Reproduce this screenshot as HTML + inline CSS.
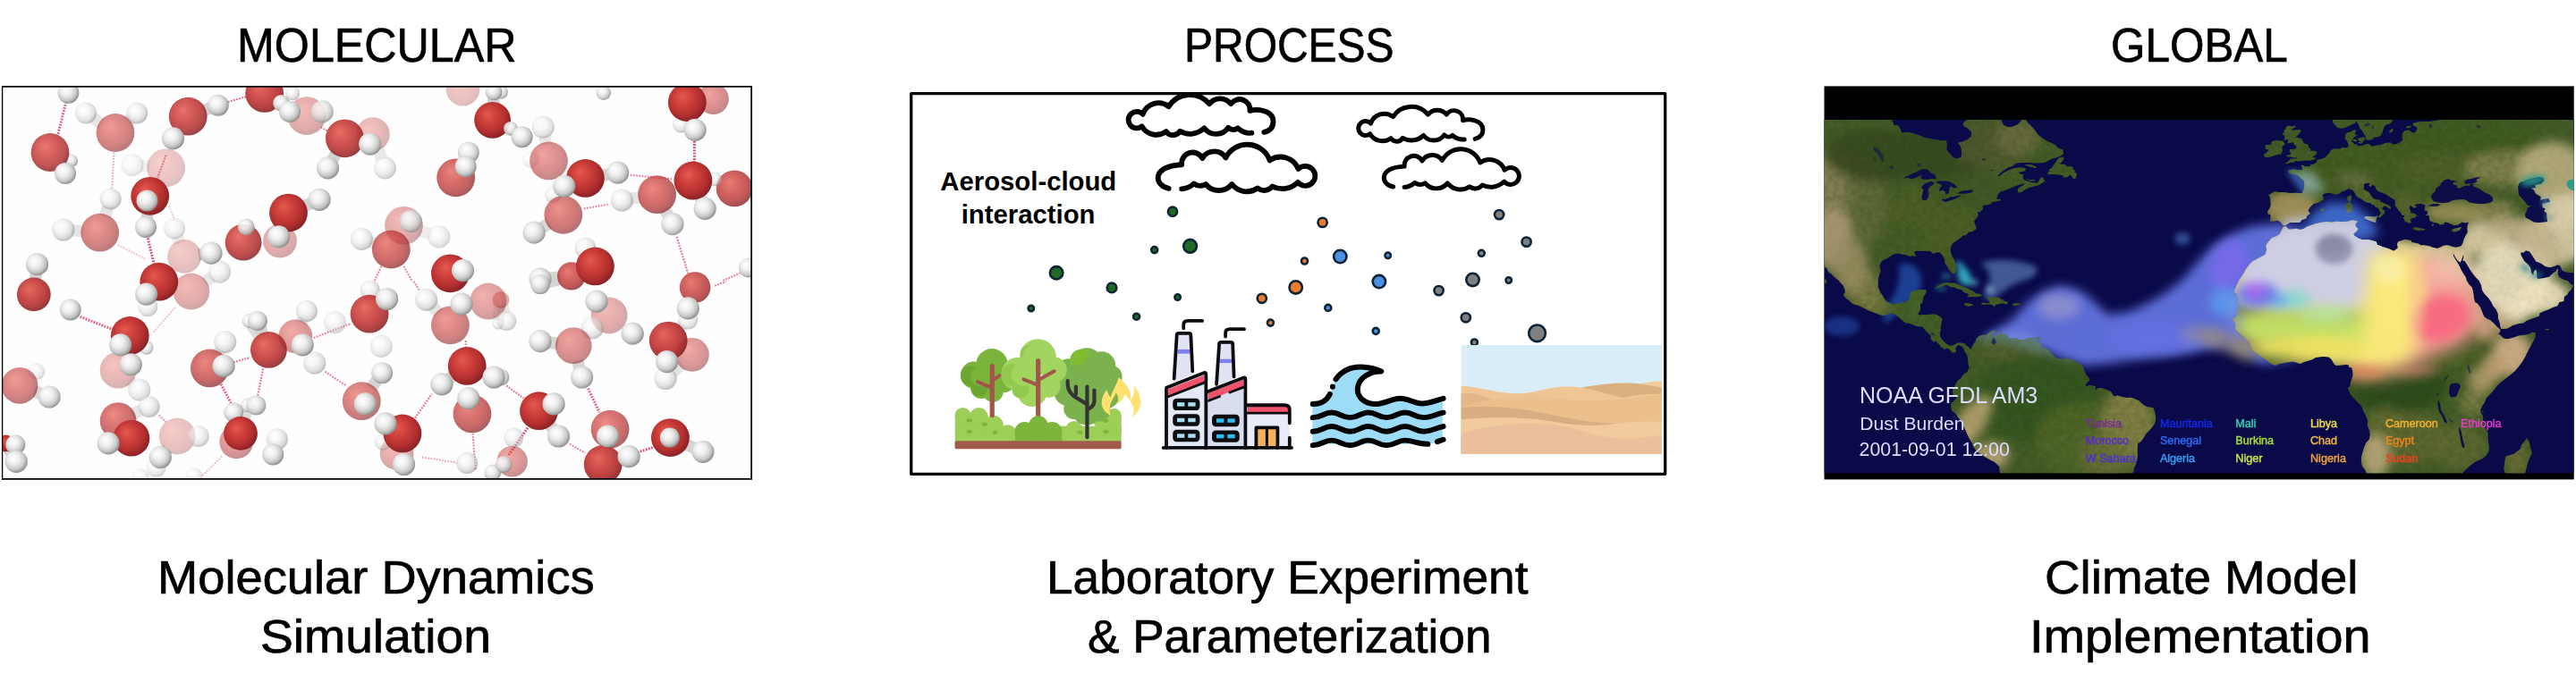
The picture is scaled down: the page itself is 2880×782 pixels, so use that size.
<!DOCTYPE html>
<html lang="en">
<head>
<meta charset="utf-8">
<title>Molecular – Process – Global</title>
<style>
html,body{margin:0;padding:0;background:#fff;}
body{width:2880px;height:782px;position:relative;overflow:hidden;font-family:"Liberation Sans",Arial,sans-serif;color:#000;}
.t{position:absolute;white-space:nowrap;transform-origin:0 0;line-height:1;}
svg{position:absolute;display:block;overflow:hidden;}
svg text{font-family:"Liberation Sans",Arial,sans-serif;}
.t{-webkit-text-stroke:0.7px #000;}

</style>
</head>
<body>
<div class="t hd" style="left:265.0px;top:24.0px;font-size:53px;transform:scaleX(0.9474)">MOLECULAR</div>
<div class="t hd" style="left:1324.4px;top:24.0px;font-size:53px;transform:scaleX(0.9052)">PROCESS</div>
<div class="t hd" style="left:2360.2px;top:24.0px;font-size:53px;transform:scaleX(0.9327)">GLOBAL</div>
<div class="t cap" style="left:175.9px;top:619.8px;font-size:52.4px;transform:scaleX(1.0361)">Molecular Dynamics</div>
<div class="t cap" style="left:291.4px;top:686.0px;font-size:52.4px;transform:scaleX(1.0544)">Simulation</div>
<div class="t cap" style="left:1170.4px;top:619.8px;font-size:52.4px;transform:scaleX(1.0160)">Laboratory Experiment</div>
<div class="t cap" style="left:1215.5px;top:686.0px;font-size:52.4px;transform:scaleX(1.0132)">&amp; Parameterization</div>
<div class="t cap" style="left:2286.4px;top:619.8px;font-size:52.4px;transform:scaleX(1.0467)">Climate Model</div>
<div class="t cap" style="left:2268.7px;top:686.0px;font-size:52.4px;transform:scaleX(1.0650)">Implementation</div>

<!-- Panel 1: molecular dynamics snapshot -->
<svg id="p1" style="left:0;top:90px" width="850" height="455" viewBox="0 90 850 455">
<defs>
<radialGradient id="gO" cx="0.44" cy="0.43" r="0.62" fx="0.36" fy="0.33">
<stop offset="0" stop-color="#e45a4e"/><stop offset="0.4" stop-color="#cc3e3a"/><stop offset="0.72" stop-color="#b22e2e"/><stop offset="1" stop-color="#7c2024"/>
</radialGradient>
<radialGradient id="gH" cx="0.43" cy="0.42" r="0.64" fx="0.36" fy="0.33">
<stop offset="0" stop-color="#ffffff"/><stop offset="0.4" stop-color="#eeeeee"/><stop offset="0.72" stop-color="#c6c8c6"/><stop offset="1" stop-color="#7a7c7a"/>
</radialGradient>
<clipPath id="c1"><rect x="3.4" y="97.6" width="836" height="437.5"/></clipPath>
<filter id="s1" x="-2%" y="-2%" width="104%" height="104%"><feGaussianBlur stdDeviation="0.7"/></filter>
</defs>
<rect x="2.75" y="96.85" width="837.35" height="439" fill="#fefefe"/>
<g clip-path="url(#c1)"><g filter="url(#s1)">
<line x1="73.9" y1="113.9" x2="64.5" y2="151.6" stroke="#dc4a6e" stroke-width="2.9" stroke-dasharray="1.8 1.4" opacity="0.90"/>
<line x1="127.4" y1="170.5" x2="125.2" y2="211.4" stroke="#dc4a6e" stroke-width="2.1" stroke-dasharray="1.8 1.4" opacity="0.45"/>
<line x1="185.6" y1="173.7" x2="176.2" y2="198.8" stroke="#dc4a6e" stroke-width="2.1" stroke-dasharray="1.8 1.4" opacity="0.70"/>
<line x1="165.2" y1="266.5" x2="172.4" y2="296.3" stroke="#dc4a6e" stroke-width="2.9" stroke-dasharray="1.8 1.4" opacity="1.00"/>
<line x1="132.1" y1="274.3" x2="163.6" y2="290.1" stroke="#dc4a6e" stroke-width="2.1" stroke-dasharray="1.8 1.4" opacity="0.35"/>
<line x1="254.8" y1="113.9" x2="276.9" y2="107.6" stroke="#dc4a6e" stroke-width="2.1" stroke-dasharray="1.8 1.4" opacity="0.80"/>
<line x1="188.8" y1="230.3" x2="195.1" y2="246.0" stroke="#dc4a6e" stroke-width="2.1" stroke-dasharray="1.8 1.4" opacity="0.30"/>
<line x1="358.7" y1="142.2" x2="366.5" y2="146.9" stroke="#dc4a6e" stroke-width="2.1" stroke-dasharray="1.8 1.4" opacity="0.70"/>
<line x1="426.3" y1="297.9" x2="418.4" y2="314.9" stroke="#dc4a6e" stroke-width="2.1" stroke-dasharray="1.8 1.4" opacity="0.70"/>
<line x1="451.5" y1="297.9" x2="460.9" y2="314.9" stroke="#dc4a6e" stroke-width="2.1" stroke-dasharray="1.8 1.4" opacity="0.70"/>
<line x1="776.4" y1="157.9" x2="776.4" y2="181.5" stroke="#dc4a6e" stroke-width="2.9" stroke-dasharray="1.8 1.4" opacity="1.00"/>
<line x1="704.7" y1="195.7" x2="751.9" y2="200.4" stroke="#dc4a6e" stroke-width="2.1" stroke-dasharray="1.8 1.4" opacity="0.70"/>
<line x1="652.8" y1="233.4" x2="679.6" y2="228.7" stroke="#dc4a6e" stroke-width="2.1" stroke-dasharray="1.8 1.4" opacity="0.70"/>
<line x1="756.6" y1="264.9" x2="769.2" y2="305.8" stroke="#dc4a6e" stroke-width="2.1" stroke-dasharray="1.8 1.4" opacity="0.80"/>
<line x1="808.5" y1="313.7" x2="827.4" y2="305.8" stroke="#dc4a6e" stroke-width="2.1" stroke-dasharray="1.8 1.4" opacity="0.70"/>
<line x1="89.7" y1="354.3" x2="125.8" y2="368.5" stroke="#dc4a6e" stroke-width="2.9" stroke-dasharray="1.8 1.4" opacity="0.90"/>
<line x1="171.5" y1="371.6" x2="196.6" y2="343.3" stroke="#dc4a6e" stroke-width="2.1" stroke-dasharray="1.8 1.4" opacity="0.35"/>
<line x1="247.0" y1="429.8" x2="259.6" y2="453.4" stroke="#dc4a6e" stroke-width="2.9" stroke-dasharray="1.8 1.4" opacity="0.90"/>
<line x1="258.0" y1="406.2" x2="280.0" y2="399.9" stroke="#dc4a6e" stroke-width="2.1" stroke-dasharray="1.8 1.4" opacity="0.80"/>
<line x1="177.8" y1="464.4" x2="185.6" y2="472.3" stroke="#dc4a6e" stroke-width="2.1" stroke-dasharray="1.8 1.4" opacity="0.60"/>
<line x1="226.5" y1="532.1" x2="248.5" y2="510.1" stroke="#dc4a6e" stroke-width="2.1" stroke-dasharray="1.8 1.4" opacity="0.35"/>
<line x1="294.2" y1="412.5" x2="287.9" y2="444.0" stroke="#dc4a6e" stroke-width="2.1" stroke-dasharray="1.8 1.4" opacity="0.80"/>
<line x1="350.8" y1="377.9" x2="391.7" y2="362.2" stroke="#dc4a6e" stroke-width="2.1" stroke-dasharray="1.8 1.4" opacity="0.70"/>
<line x1="363.4" y1="415.7" x2="387.0" y2="431.4" stroke="#dc4a6e" stroke-width="2.1" stroke-dasharray="1.8 1.4" opacity="0.70"/>
<line x1="464.0" y1="467.6" x2="482.9" y2="440.8" stroke="#dc4a6e" stroke-width="2.1" stroke-dasharray="1.8 1.4" opacity="0.80"/>
<line x1="520.7" y1="381.1" x2="520.7" y2="388.9" stroke="#dc4a6e" stroke-width="2.1" stroke-dasharray="1.8 1.4" opacity="0.70"/>
<line x1="528.5" y1="484.9" x2="531.7" y2="525.8" stroke="#dc4a6e" stroke-width="2.1" stroke-dasharray="1.8 1.4" opacity="0.70"/>
<line x1="471.9" y1="511.6" x2="512.8" y2="517.9" stroke="#dc4a6e" stroke-width="2.1" stroke-dasharray="1.8 1.4" opacity="0.50"/>
<line x1="462.5" y1="315.0" x2="468.8" y2="324.4" stroke="#dc4a6e" stroke-width="2.1" stroke-dasharray="1.8 1.4" opacity="0.70"/>
<line x1="566.3" y1="431.4" x2="585.2" y2="445.6" stroke="#dc4a6e" stroke-width="2.1" stroke-dasharray="1.8 1.4" opacity="0.80"/>
<line x1="657.5" y1="434.6" x2="670.1" y2="461.3" stroke="#dc4a6e" stroke-width="2.9" stroke-dasharray="1.8 1.4" opacity="0.90"/>
<line x1="589.9" y1="478.6" x2="567.9" y2="510.1" stroke="#dc4a6e" stroke-width="2.9" stroke-dasharray="1.8 1.4" opacity="1.00"/>
<line x1="637.1" y1="496.8" x2="654.4" y2="506.9" stroke="#dc4a6e" stroke-width="2.1" stroke-dasharray="1.8 1.4" opacity="0.70"/>
<line x1="712.6" y1="506.0" x2="729.9" y2="500.6" stroke="#dc4a6e" stroke-width="2.9" stroke-dasharray="1.8 1.4" opacity="1.00"/>
<line x1="799.1" y1="319.7" x2="811.7" y2="315.0" stroke="#dc4a6e" stroke-width="2.1" stroke-dasharray="1.8 1.4" opacity="0.70"/>
<line x1="758.2" y1="362.2" x2="767.6" y2="374.8" stroke="#dc4a6e" stroke-width="2.1" stroke-dasharray="1.8 1.4" opacity="0.50"/>
<line x1="157.4" y1="185.5" x2="167.3" y2="186.3" stroke="#d2d4d2" stroke-width="13.5" opacity="0.30"/>
<line x1="226.4" y1="284.3" x2="221.8" y2="284.9" stroke="#d2d4d2" stroke-width="13.5" opacity="0.95"/>
<line x1="198.0" y1="263.9" x2="200.8" y2="271.9" stroke="#d2d4d2" stroke-width="13.5" opacity="0.40"/>
<line x1="148.7" y1="429.6" x2="144.9" y2="426.0" stroke="#d2d4d2" stroke-width="13.5" opacity="0.50"/>
<line x1="185.3" y1="504.1" x2="187.3" y2="501.7" stroke="#d2d4d2" stroke-width="13.5" opacity="1.00"/>
<line x1="564.2" y1="351.3" x2="561.7" y2="341.7" stroke="#d2d4d2" stroke-width="13.5" opacity="0.50"/>
<line x1="557.2" y1="358.9" x2="559.2" y2="341.8" stroke="#d2d4d2" stroke-width="13.5" opacity="0.50"/>
<line x1="556.2" y1="525.7" x2="560.2" y2="523.4" stroke="#d2d4d2" stroke-width="13.5" opacity="0.90"/>
<circle cx="185.6" cy="187.8" r="21.4" fill="url(#gO)" opacity="0.28"/>
<circle cx="147.9" cy="184.7" r="12.6" fill="url(#gH)" opacity="0.30"/>
<circle cx="206.1" cy="286.9" r="18.9" fill="url(#gO)" opacity="0.30"/>
<circle cx="517.5" cy="99.7" r="18.9" fill="url(#gO)" opacity="0.30"/>
<circle cx="593.0" cy="178.4" r="9.4" fill="url(#gH)" opacity="0.30"/>
<circle cx="132.1" cy="414.1" r="20.4" fill="url(#gO)" opacity="0.35"/>
<circle cx="198.2" cy="488.0" r="20.4" fill="url(#gO)" opacity="0.30"/>
<circle cx="560.0" cy="335.4" r="9.4" fill="url(#gO)" opacity="0.40"/>
<circle cx="572.6" cy="516.3" r="17.3" fill="url(#gO)" opacity="0.50"/>
<line x1="103.4" y1="131.4" x2="113.7" y2="138.3" stroke="#d2d4d2" stroke-width="13.5" opacity="0.55"/>
<line x1="80.3" y1="257.8" x2="93.3" y2="258.8" stroke="#d2d4d2" stroke-width="13.5" opacity="0.60"/>
<line x1="427.1" y1="178.8" x2="422.2" y2="165.0" stroke="#d2d4d2" stroke-width="13.5" opacity="0.50"/>
<line x1="481.7" y1="262.0" x2="469.0" y2="257.9" stroke="#d2d4d2" stroke-width="13.5" opacity="0.40"/>
<line x1="413.3" y1="270.6" x2="420.0" y2="272.9" stroke="#d2d4d2" stroke-width="13.5" opacity="0.55"/>
<line x1="608.8" y1="151.6" x2="610.5" y2="161.8" stroke="#d2d4d2" stroke-width="13.5" opacity="0.50"/>
<line x1="237.5" y1="309.7" x2="228.3" y2="316.1" stroke="#d2d4d2" stroke-width="13.5" opacity="0.50"/>
<line x1="339.3" y1="356.2" x2="336.8" y2="361.8" stroke="#d2d4d2" stroke-width="13.5" opacity="0.60"/>
<line x1="751.2" y1="417.1" x2="762.1" y2="407.4" stroke="#d2d4d2" stroke-width="13.5" opacity="0.60"/>
<line x1="763.7" y1="363.3" x2="759.7" y2="367.6" stroke="#d2d4d2" stroke-width="13.5" opacity="0.50"/>
<circle cx="96.0" cy="126.5" r="12.0" fill="url(#gH)" opacity="0.55"/>
<circle cx="70.8" cy="257.0" r="12.6" fill="url(#gH)" opacity="0.60"/>
<circle cx="195.1" cy="255.4" r="12.0" fill="url(#gH)" opacity="0.40"/>
<circle cx="342.9" cy="129.6" r="21.4" fill="url(#gO)" opacity="0.40"/>
<circle cx="416.9" cy="150.1" r="18.9" fill="url(#gO)" opacity="0.35"/>
<circle cx="313.0" cy="269.6" r="18.9" fill="url(#gO)" opacity="0.40"/>
<circle cx="451.5" cy="252.3" r="21.4" fill="url(#gO)" opacity="0.40"/>
<circle cx="404.3" cy="267.4" r="12.6" fill="url(#gH)" opacity="0.55"/>
<circle cx="490.8" cy="264.9" r="12.6" fill="url(#gH)" opacity="0.40"/>
<circle cx="613.5" cy="179.9" r="21.4" fill="url(#gO)" opacity="0.55"/>
<circle cx="797.5" cy="110.7" r="17.3" fill="url(#gO)" opacity="0.55"/>
<circle cx="213.9" cy="326.0" r="20.4" fill="url(#gO)" opacity="0.40"/>
<circle cx="155.7" cy="436.1" r="12.6" fill="url(#gH)" opacity="0.50"/>
<circle cx="40.9" cy="415.7" r="9.4" fill="url(#gH)" opacity="0.40"/>
<circle cx="221.8" cy="488.0" r="12.0" fill="url(#gH)" opacity="0.50"/>
<circle cx="264.3" cy="494.3" r="18.9" fill="url(#gO)" opacity="0.50"/>
<circle cx="174.6" cy="522.6" r="11.0" fill="url(#gH)" opacity="0.40"/>
<circle cx="157.3" cy="533.7" r="9.4" fill="url(#gH)" opacity="0.40"/>
<circle cx="217.1" cy="532.7" r="9.4" fill="url(#gH)" opacity="0.40"/>
<circle cx="330.3" cy="376.3" r="18.9" fill="url(#gO)" opacity="0.50"/>
<circle cx="374.4" cy="360.6" r="12.6" fill="url(#gH)" opacity="0.40"/>
<circle cx="426.3" cy="387.4" r="12.6" fill="url(#gH)" opacity="0.40"/>
<circle cx="545.8" cy="337.0" r="20.4" fill="url(#gO)" opacity="0.45"/>
<circle cx="556.9" cy="362.2" r="6.3" fill="url(#gH)" opacity="0.50"/>
<circle cx="443.6" cy="506.9" r="18.9" fill="url(#gO)" opacity="0.40"/>
<circle cx="681.1" cy="352.8" r="20.4" fill="url(#gO)" opacity="0.40"/>
<circle cx="773.9" cy="396.8" r="18.9" fill="url(#gO)" opacity="0.50"/>
<circle cx="769.2" cy="357.5" r="11.0" fill="url(#gH)" opacity="0.50"/>
<circle cx="566.3" cy="359.0" r="11.0" fill="url(#gH)" opacity="0.50"/>
<circle cx="574.2" cy="489.6" r="11.0" fill="url(#gH)" opacity="0.50"/>
<line x1="76.6" y1="178.5" x2="73.1" y2="177.2" stroke="#d2d4d2" stroke-width="13.5" opacity="0.90"/>
<line x1="146.6" y1="132.5" x2="142.6" y2="136.1" stroke="#d2d4d2" stroke-width="13.5" opacity="0.60"/>
<line x1="120.9" y1="231.0" x2="117.2" y2="242.6" stroke="#d2d4d2" stroke-width="13.5" opacity="0.60"/>
<line x1="168.4" y1="336.0" x2="170.2" y2="332.0" stroke="#d2d4d2" stroke-width="13.5" opacity="0.50"/>
<line x1="519.8" y1="178.5" x2="517.9" y2="182.4" stroke="#d2d4d2" stroke-width="13.5" opacity="0.90"/>
<line x1="605.3" y1="255.2" x2="614.1" y2="249.9" stroke="#d2d4d2" stroke-width="13.5" opacity="0.90"/>
<line x1="704.7" y1="222.5" x2="716.4" y2="220.6" stroke="#d2d4d2" stroke-width="13.5" opacity="0.60"/>
<line x1="613.6" y1="311.2" x2="626.0" y2="310.1" stroke="#d2d4d2" stroke-width="13.5" opacity="0.90"/>
<line x1="611.8" y1="316.1" x2="626.3" y2="312.2" stroke="#d2d4d2" stroke-width="13.5" opacity="0.90"/>
<line x1="246.8" y1="390.9" x2="243.7" y2="396.1" stroke="#d2d4d2" stroke-width="13.5" opacity="0.60"/>
<line x1="46.1" y1="440.6" x2="38.3" y2="437.6" stroke="#d2d4d2" stroke-width="13.5" opacity="0.90"/>
<line x1="158.6" y1="458.7" x2="148.0" y2="463.5" stroke="#d2d4d2" stroke-width="13.5" opacity="0.60"/>
<line x1="13.4" y1="508.1" x2="9.5" y2="501.5" stroke="#d2d4d2" stroke-width="13.5" opacity="1.00"/>
<line x1="281.2" y1="363.1" x2="290.6" y2="377.0" stroke="#d2d4d2" stroke-width="13.5" opacity="0.80"/>
<line x1="483.2" y1="342.4" x2="490.7" y2="350.4" stroke="#d2d4d2" stroke-width="13.5" opacity="0.60"/>
<line x1="422.0" y1="424.5" x2="415.1" y2="433.9" stroke="#d2d4d2" stroke-width="13.5" opacity="0.95"/>
<line x1="275.7" y1="458.1" x2="272.8" y2="469.5" stroke="#d2d4d2" stroke-width="13.5" opacity="0.80"/>
<line x1="648.1" y1="412.7" x2="645.7" y2="403.6" stroke="#d2d4d2" stroke-width="13.5" opacity="0.95"/>
<line x1="613.5" y1="383.0" x2="623.9" y2="384.4" stroke="#d2d4d2" stroke-width="13.5" opacity="0.95"/>
<circle cx="80.2" cy="179.9" r="6.9" fill="url(#gH)" opacity="0.90"/>
<circle cx="129.0" cy="148.5" r="21.4" fill="url(#gO)" opacity="0.60"/>
<circle cx="111.7" cy="260.2" r="21.4" fill="url(#gO)" opacity="0.60"/>
<circle cx="245.4" cy="304.2" r="12.6" fill="url(#gH)" opacity="0.50"/>
<circle cx="327.2" cy="104.4" r="7.9" fill="url(#gH)" opacity="0.60"/>
<circle cx="430.4" cy="187.8" r="12.6" fill="url(#gH)" opacity="0.50"/>
<circle cx="509.7" cy="198.8" r="21.4" fill="url(#gO)" opacity="0.75"/>
<circle cx="437.3" cy="279.0" r="21.4" fill="url(#gO)" opacity="0.72"/>
<circle cx="560.0" cy="102.9" r="7.9" fill="url(#gH)" opacity="0.80"/>
<circle cx="607.2" cy="142.2" r="12.6" fill="url(#gH)" opacity="0.50"/>
<circle cx="761.3" cy="139.0" r="9.4" fill="url(#gH)" opacity="0.60"/>
<circle cx="618.2" cy="217.7" r="9.4" fill="url(#gH)" opacity="0.50"/>
<circle cx="629.8" cy="240.3" r="21.4" fill="url(#gO)" opacity="0.65"/>
<circle cx="695.3" cy="224.0" r="12.6" fill="url(#gH)" opacity="0.60"/>
<circle cx="821.1" cy="210.8" r="20.4" fill="url(#gO)" opacity="0.80"/>
<circle cx="799.1" cy="200.4" r="7.9" fill="url(#gH)" opacity="0.60"/>
<circle cx="638.7" cy="308.9" r="15.7" fill="url(#gO)" opacity="0.80"/>
<circle cx="654.4" cy="277.5" r="12.0" fill="url(#gH)" opacity="0.60"/>
<circle cx="777.1" cy="321.5" r="17.3" fill="url(#gO)" opacity="0.80"/>
<circle cx="165.2" cy="343.3" r="11.0" fill="url(#gH)" opacity="0.50"/>
<circle cx="163.6" cy="388.9" r="7.9" fill="url(#gH)" opacity="0.70"/>
<circle cx="166.7" cy="455.0" r="12.0" fill="url(#gH)" opacity="0.60"/>
<circle cx="234.4" cy="411.9" r="21.4" fill="url(#gO)" opacity="0.72"/>
<circle cx="251.7" cy="382.6" r="12.6" fill="url(#gH)" opacity="0.60"/>
<circle cx="278.4" cy="359.0" r="7.9" fill="url(#gH)" opacity="0.80"/>
<circle cx="22.0" cy="431.4" r="20.4" fill="url(#gO)" opacity="0.60"/>
<circle cx="132.1" cy="470.7" r="20.4" fill="url(#gO)" opacity="0.70"/>
<circle cx="276.9" cy="453.4" r="7.9" fill="url(#gH)" opacity="0.80"/>
<circle cx="6.3" cy="495.9" r="9.4" fill="url(#gO)"/>
<circle cx="342.9" cy="348.0" r="12.0" fill="url(#gH)" opacity="0.60"/>
<circle cx="351.7" cy="406.2" r="12.6" fill="url(#gH)" opacity="0.60"/>
<circle cx="413.7" cy="324.4" r="11.0" fill="url(#gH)" opacity="0.60"/>
<circle cx="476.6" cy="335.4" r="12.6" fill="url(#gH)" opacity="0.60"/>
<circle cx="503.4" cy="363.8" r="21.4" fill="url(#gO)" opacity="0.60"/>
<circle cx="527.9" cy="462.9" r="21.4" fill="url(#gO)" opacity="0.72"/>
<circle cx="404.3" cy="448.7" r="21.4" fill="url(#gO)" opacity="0.62"/>
<circle cx="427.9" cy="494.3" r="9.4" fill="url(#gH)" opacity="0.50"/>
<circle cx="309.9" cy="491.2" r="12.0" fill="url(#gH)" opacity="0.60"/>
<circle cx="522.2" cy="517.9" r="12.0" fill="url(#gH)" opacity="0.60"/>
<circle cx="662.2" cy="366.9" r="12.6" fill="url(#gH)" opacity="0.55"/>
<circle cx="641.2" cy="386.7" r="20.4" fill="url(#gO)" opacity="0.55"/>
<circle cx="744.0" cy="423.5" r="12.6" fill="url(#gH)" opacity="0.60"/>
<circle cx="682.1" cy="480.2" r="21.4" fill="url(#gO)" opacity="0.70"/>
<line x1="235.4" y1="120.8" x2="227.4" y2="123.8" stroke="#d2d4d2" stroke-width="13.5" opacity="1.00"/>
<line x1="40.5" y1="305.2" x2="39.5" y2="313.6" stroke="#d2d4d2" stroke-width="13.5" opacity="1.00"/>
<line x1="371.3" y1="179.5" x2="376.3" y2="170.7" stroke="#d2d4d2" stroke-width="13.5" opacity="1.00"/>
<line x1="551.8" y1="109.3" x2="551.4" y2="116.9" stroke="#d2d4d2" stroke-width="13.5" opacity="1.00"/>
<line x1="348.3" y1="227.1" x2="339.4" y2="230.9" stroke="#d2d4d2" stroke-width="13.5" opacity="1.00"/>
<line x1="681.1" y1="194.8" x2="672.5" y2="196.3" stroke="#d2d4d2" stroke-width="13.5" opacity="1.00"/>
<line x1="747.5" y1="242.2" x2="743.1" y2="234.0" stroke="#d2d4d2" stroke-width="13.5" opacity="0.90"/>
<line x1="290.8" y1="366.5" x2="294.1" y2="375.2" stroke="#d2d4d2" stroke-width="13.5" opacity="1.00"/>
<line x1="618.6" y1="480.5" x2="613.8" y2="474.2" stroke="#d2d4d2" stroke-width="13.5" opacity="1.00"/>
<circle cx="56.0" cy="170.5" r="21.4" fill="url(#gO)" opacity="0.82"/>
<circle cx="153.2" cy="126.5" r="12.0" fill="url(#gH)" opacity="0.60"/>
<circle cx="210.2" cy="130.2" r="21.4" fill="url(#gO)" opacity="0.85"/>
<circle cx="123.6" cy="222.4" r="12.0" fill="url(#gH)" opacity="0.60"/>
<circle cx="272.1" cy="271.2" r="20.4" fill="url(#gO)" opacity="0.85"/>
<circle cx="37.8" cy="329.4" r="18.9" fill="url(#gO)" opacity="0.90"/>
<circle cx="295.7" cy="104.4" r="21.4" fill="url(#gO)" opacity="0.90"/>
<circle cx="360.2" cy="124.9" r="12.6" fill="url(#gH)" opacity="0.80"/>
<circle cx="385.4" cy="154.8" r="21.4" fill="url(#gO)" opacity="0.88"/>
<circle cx="550.6" cy="134.3" r="20.4" fill="url(#gO)"/>
<circle cx="523.8" cy="170.5" r="12.0" fill="url(#gH)" opacity="0.90"/>
<circle cx="322.5" cy="238.1" r="21.4" fill="url(#gO)"/>
<circle cx="459.3" cy="247.6" r="12.6" fill="url(#gH)" opacity="0.90"/>
<circle cx="571.0" cy="143.8" r="7.9" fill="url(#gH)" opacity="0.90"/>
<circle cx="674.8" cy="103.8" r="8.2" fill="url(#gH)" opacity="0.90"/>
<circle cx="654.4" cy="199.4" r="21.4" fill="url(#gO)"/>
<circle cx="597.1" cy="260.2" r="12.6" fill="url(#gH)" opacity="0.90"/>
<circle cx="734.6" cy="217.7" r="21.4" fill="url(#gO)" opacity="0.72"/>
<circle cx="604.0" cy="312.1" r="12.6" fill="url(#gH)" opacity="0.90"/>
<circle cx="836.9" cy="299.5" r="11.0" fill="url(#gH)" opacity="0.90"/>
<circle cx="145.3" cy="375.4" r="21.4" fill="url(#gO)"/>
<circle cx="55.1" cy="444.0" r="12.6" fill="url(#gH)" opacity="0.90"/>
<circle cx="261.1" cy="461.3" r="11.0" fill="url(#gH)" opacity="0.90"/>
<circle cx="17.3" cy="497.5" r="11.0" fill="url(#gH)"/>
<circle cx="300.4" cy="391.4" r="20.4" fill="url(#gO)" opacity="0.88"/>
<circle cx="413.1" cy="351.2" r="21.4" fill="url(#gO)" opacity="0.88"/>
<circle cx="427.2" cy="417.2" r="12.0" fill="url(#gH)" opacity="0.95"/>
<circle cx="269.0" cy="484.9" r="18.9" fill="url(#gO)"/>
<circle cx="286.3" cy="453.4" r="11.0" fill="url(#gH)" opacity="0.90"/>
<circle cx="550.6" cy="528.9" r="9.4" fill="url(#gH)" opacity="0.90"/>
<circle cx="604.0" cy="318.1" r="11.0" fill="url(#gH)" opacity="0.90"/>
<circle cx="604.0" cy="381.7" r="12.6" fill="url(#gH)" opacity="0.95"/>
<circle cx="650.6" cy="422.0" r="12.6" fill="url(#gH)" opacity="0.95"/>
<circle cx="747.2" cy="381.1" r="21.4" fill="url(#gO)" opacity="0.92"/>
<circle cx="560.0" cy="422.0" r="9.4" fill="url(#gH)" opacity="0.90"/>
<circle cx="602.5" cy="459.7" r="21.4" fill="url(#gO)"/>
<circle cx="674.2" cy="519.5" r="21.4" fill="url(#gO)" opacity="0.92"/>
<circle cx="563.1" cy="519.5" r="9.4" fill="url(#gH)" opacity="0.90"/>
<line x1="164.2" y1="245.0" x2="165.2" y2="237.5" stroke="#d2d4d2" stroke-width="13.5" opacity="1.00"/>
<line x1="774.4" y1="136.1" x2="773.3" y2="132.2" stroke="#d2d4d2" stroke-width="13.5" opacity="1.00"/>
<line x1="784.4" y1="224.6" x2="782.0" y2="218.9" stroke="#d2d4d2" stroke-width="13.5" opacity="1.00"/>
<line x1="543.3" y1="418.2" x2="539.2" y2="416.5" stroke="#d2d4d2" stroke-width="13.5" opacity="1.00"/>
<line x1="501.7" y1="424.2" x2="507.3" y2="420.2" stroke="#d2d4d2" stroke-width="13.5" opacity="1.00"/>
<line x1="777.1" y1="501.5" x2="766.3" y2="496.9" stroke="#d2d4d2" stroke-width="13.5" opacity="1.00"/>
<circle cx="76.4" cy="103.8" r="12.0" fill="url(#gH)"/>
<circle cx="73.0" cy="194.1" r="12.0" fill="url(#gH)"/>
<circle cx="243.8" cy="117.7" r="12.0" fill="url(#gH)"/>
<circle cx="193.5" cy="154.8" r="12.6" fill="url(#gH)"/>
<circle cx="167.7" cy="219.3" r="21.4" fill="url(#gO)"/>
<circle cx="41.5" cy="295.7" r="12.6" fill="url(#gH)"/>
<circle cx="236.0" cy="283.1" r="12.6" fill="url(#gH)" opacity="0.95"/>
<circle cx="275.3" cy="253.9" r="9.4" fill="url(#gH)" opacity="0.90"/>
<circle cx="177.8" cy="315.2" r="21.4" fill="url(#gO)"/>
<circle cx="314.6" cy="115.4" r="9.4" fill="url(#gH)"/>
<circle cx="413.7" cy="161.1" r="12.6" fill="url(#gH)"/>
<circle cx="366.5" cy="187.8" r="12.6" fill="url(#gH)"/>
<circle cx="552.1" cy="102.9" r="9.4" fill="url(#gH)"/>
<circle cx="520.7" cy="186.2" r="12.0" fill="url(#gH)"/>
<circle cx="357.1" cy="223.4" r="12.6" fill="url(#gH)"/>
<circle cx="311.5" cy="264.9" r="12.6" fill="url(#gH)"/>
<circle cx="503.4" cy="305.8" r="21.4" fill="url(#gO)"/>
<circle cx="583.6" cy="153.2" r="12.0" fill="url(#gH)"/>
<circle cx="768.3" cy="114.5" r="21.4" fill="url(#gO)"/>
<circle cx="690.6" cy="193.2" r="12.6" fill="url(#gH)"/>
<circle cx="751.9" cy="250.7" r="12.6" fill="url(#gH)" opacity="0.90"/>
<circle cx="774.9" cy="202.0" r="21.4" fill="url(#gO)"/>
<circle cx="665.4" cy="297.9" r="21.4" fill="url(#gO)"/>
<circle cx="78.7" cy="346.5" r="12.0" fill="url(#gH)"/>
<circle cx="163.6" cy="329.2" r="12.6" fill="url(#gH)"/>
<circle cx="146.3" cy="407.8" r="12.6" fill="url(#gH)"/>
<circle cx="250.1" cy="409.4" r="12.6" fill="url(#gH)"/>
<circle cx="146.9" cy="490.2" r="20.4" fill="url(#gO)"/>
<circle cx="18.2" cy="516.3" r="12.6" fill="url(#gH)"/>
<circle cx="287.9" cy="359.0" r="11.0" fill="url(#gH)"/>
<circle cx="338.2" cy="385.8" r="12.6" fill="url(#gH)"/>
<circle cx="432.6" cy="334.5" r="12.6" fill="url(#gH)"/>
<circle cx="516.0" cy="340.2" r="12.6" fill="url(#gH)"/>
<circle cx="522.2" cy="409.4" r="21.4" fill="url(#gO)"/>
<circle cx="408.4" cy="451.9" r="12.6" fill="url(#gH)"/>
<circle cx="449.9" cy="484.9" r="21.4" fill="url(#gO)"/>
<circle cx="305.2" cy="508.5" r="12.0" fill="url(#gH)"/>
<circle cx="707.2" cy="373.2" r="12.6" fill="url(#gH)"/>
<circle cx="769.2" cy="344.9" r="12.6" fill="url(#gH)"/>
<circle cx="624.5" cy="488.0" r="12.6" fill="url(#gH)"/>
<circle cx="679.6" cy="488.0" r="12.6" fill="url(#gH)"/>
<circle cx="749.4" cy="489.6" r="21.4" fill="url(#gO)"/>
<circle cx="164.5" cy="224.6" r="12.0" fill="url(#gH)"/>
<circle cx="163.0" cy="253.9" r="12.0" fill="url(#gH)"/>
<circle cx="324.0" cy="124.9" r="12.0" fill="url(#gH)"/>
<circle cx="517.5" cy="302.6" r="12.6" fill="url(#gH)"/>
<circle cx="777.1" cy="145.3" r="12.6" fill="url(#gH)"/>
<circle cx="630.8" cy="208.3" r="12.6" fill="url(#gH)"/>
<circle cx="788.1" cy="233.4" r="12.6" fill="url(#gH)"/>
<circle cx="134.7" cy="385.8" r="12.6" fill="url(#gH)"/>
<circle cx="121.1" cy="495.9" r="12.6" fill="url(#gH)"/>
<circle cx="179.3" cy="511.6" r="12.6" fill="url(#gH)"/>
<circle cx="493.9" cy="429.8" r="12.6" fill="url(#gH)"/>
<circle cx="552.1" cy="422.0" r="12.6" fill="url(#gH)"/>
<circle cx="523.8" cy="445.6" r="12.6" fill="url(#gH)"/>
<circle cx="431.0" cy="473.9" r="12.6" fill="url(#gH)"/>
<circle cx="451.5" cy="519.5" r="12.6" fill="url(#gH)"/>
<circle cx="667.0" cy="337.0" r="12.6" fill="url(#gH)"/>
<circle cx="745.6" cy="404.7" r="12.6" fill="url(#gH)"/>
<circle cx="619.1" cy="451.9" r="12.6" fill="url(#gH)"/>
<circle cx="703.1" cy="510.7" r="12.6" fill="url(#gH)"/>
<circle cx="748.8" cy="489.6" r="11.0" fill="url(#gH)"/>
<circle cx="785.9" cy="505.3" r="12.6" fill="url(#gH)"/>
</g></g>
<path d="M1.9 96.85H841M840.1 96V536.7M841 535.85H1.9" fill="none" stroke="#000" stroke-width="1.8"/><path d="M2.6 96V536.7" fill="none" stroke="#000" stroke-width="1.35"/>
</svg>
<!-- Panel 2: aerosol-cloud interaction -->
<svg id="p2" style="left:1010px;top:95px" width="860" height="445" viewBox="1010 95 860 445">
<rect x="1018.7" y="104.7" width="843" height="425.6" fill="#fff" stroke="#000" stroke-width="3.3" stroke-linejoin="round"/>
<g fill="#fff" stroke="#000" stroke-linecap="round" stroke-linejoin="round"><path d="M825 278A104.3 104.3 0 0 1 745 250A40.0 40.0 0 0 1 690 247A86.1 86.1 0 0 1 550 250A115.8 115.8 0 0 1 410 268A47.4 47.4 0 0 1 330 270A96.1 96.1 0 0 1 190 240A48 48 0 1 1 195 170A96.6 96.6 0 0 1 345 125A145.5 145.5 0 0 1 580 110A80.1 80.1 0 0 1 705 110A60.2 60.2 0 0 1 815 150C850 138 948 142 950 212 C950 245 930 266 897 274" transform="translate(1240.00 95.00) scale(0.19316)" stroke-width="30" /><path d="M345 600 C262 585 240 470 420 462A63.9 63.9 0 0 1 540 425A79.0 79.0 0 0 1 675 422A139.1 139.1 0 0 1 930 437A109.5 109.5 0 0 1 1095 487A57 57 0 1 1 1092 564A127.5 127.5 0 0 1 945 588A59.9 59.9 0 0 1 860 598A111.0 111.0 0 0 1 710 575A96.1 96.1 0 0 1 560 575A66.4 66.4 0 0 1 490 572A107.1 107.1 0 0 1 420 602" transform="translate(1240.00 95.00) scale(0.19316)" stroke-width="30" /><path d="M825 278A104.3 104.3 0 0 1 745 250A40.0 40.0 0 0 1 690 247A86.1 86.1 0 0 1 550 250A115.8 115.8 0 0 1 410 268A47.4 47.4 0 0 1 330 270A96.1 96.1 0 0 1 190 240A48 48 0 1 1 195 170A96.6 96.6 0 0 1 345 125A145.5 145.5 0 0 1 580 110A80.1 80.1 0 0 1 705 110A60.2 60.2 0 0 1 815 150C850 138 948 142 950 212 C950 245 930 266 897 274" transform="translate(1500.14 109.85) scale(0.16612)" stroke-width="30" /><path d="M345 600 C262 585 240 470 420 462A63.9 63.9 0 0 1 540 425A79.0 79.0 0 0 1 675 422A139.1 139.1 0 0 1 930 437A109.5 109.5 0 0 1 1095 487A57 57 0 1 1 1092 564A127.5 127.5 0 0 1 945 588A59.9 59.9 0 0 1 860 598A111.0 111.0 0 0 1 710 575A96.1 96.1 0 0 1 560 575A66.4 66.4 0 0 1 490 572A107.1 107.1 0 0 1 420 602" transform="translate(1500.29 109.38) scale(0.16612)" stroke-width="30" /></g>
<g font-weight="bold" font-size="29.3px" text-anchor="middle" fill="#000"><text x="1149.8" y="213.4">Aerosol-cloud</text><text x="1149.6" y="249.5">interaction</text></g>
<g stroke="#0d2436" stroke-width="2.6"><circle cx="1311.0" cy="236.7" r="5.1" fill="#1f6b23"/><circle cx="1330.6" cy="275.3" r="7.4" fill="#1f6b23"/><circle cx="1290.7" cy="279.6" r="3.5" fill="#1f6b23"/><circle cx="1181.1" cy="305.3" r="7.2" fill="#1f6b23"/><circle cx="1243.0" cy="321.9" r="5.3" fill="#1f6b23"/><circle cx="1316.6" cy="332.5" r="3.2" fill="#1f6b23"/><circle cx="1152.8" cy="345.0" r="3.2" fill="#1f6b23"/><circle cx="1270.6" cy="354.2" r="3.5" fill="#1f6b23"/><circle cx="1478.6" cy="248.9" r="5.1" fill="#ee7a30"/><circle cx="1458.5" cy="292.0" r="3.5" fill="#ee7a30"/><circle cx="1448.7" cy="321.4" r="7.2" fill="#ee7a30"/><circle cx="1410.8" cy="333.8" r="5.1" fill="#ee7a30"/><circle cx="1420.4" cy="361.1" r="3.5" fill="#ee7a30"/><circle cx="1498.3" cy="287.0" r="7.2" fill="#4a90e2"/><circle cx="1551.7" cy="285.7" r="3.2" fill="#4a90e2"/><circle cx="1541.9" cy="315.1" r="7.2" fill="#4a90e2"/><circle cx="1484.8" cy="344.4" r="3.5" fill="#4a90e2"/><circle cx="1538.2" cy="370.4" r="3.5" fill="#4a90e2"/><circle cx="1676.1" cy="240.1" r="5.1" fill="#808080"/><circle cx="1706.6" cy="270.6" r="5.1" fill="#808080"/><circle cx="1656.3" cy="283.3" r="3.5" fill="#808080"/><circle cx="1646.5" cy="312.9" r="7.2" fill="#808080"/><circle cx="1686.7" cy="313.5" r="3.2" fill="#808080"/><circle cx="1608.6" cy="325.1" r="5.1" fill="#808080"/><circle cx="1638.8" cy="355.3" r="5.1" fill="#808080"/><circle cx="1718.6" cy="372.8" r="9.3" fill="#808080"/><circle cx="1648.4" cy="383.0" r="3.5" fill="#808080"/></g>
<g transform="translate(1050 370) scale(0.23599)">
<!-- back bushes -->
<g fill="#9dce58"><rect x="75" y="470" width="295" height="55"/><rect x="75" y="400" width="150" height="80"/><circle cx="112" cy="402" r="38"/><circle cx="188" cy="408" r="44"/><circle cx="258" cy="448" r="46"/><circle cx="325" cy="488" r="42"/>
<rect x="575" y="452" width="288" height="73"/><rect x="760" y="405" width="103" height="80"/><circle cx="828" cy="405" r="36"/><circle cx="770" cy="425" r="40"/><circle cx="640" cy="470" r="42"/><circle cx="600" cy="492" r="32"/></g>
<!-- tree 1 -->
<g fill="#7ab43a"><circle cx="250" cy="160" r="75"/><circle cx="165" cy="210" r="64"/><circle cx="305" cy="235" r="58"/><circle cx="200" cy="270" r="52"/><circle cx="255" cy="290" r="48"/></g>
<g fill="#6aa630"><circle cx="150" cy="215" r="48"/><circle cx="190" cy="275" r="38"/></g>
<g fill="#7ab43a"><circle cx="200" cy="215" r="50"/></g>
<!-- tree 3 -->
<g fill="#7cb24e"><circle cx="700" cy="160" r="78"/><circle cx="770" cy="165" r="66"/><circle cx="615" cy="200" r="68"/><circle cx="812" cy="218" r="55"/><circle cx="610" cy="290" r="66"/><circle cx="700" cy="375" r="72"/><circle cx="785" cy="300" r="72"/><circle cx="660" cy="330" r="70"/><circle cx="720" cy="260" r="80"/><circle cx="640" cy="370" r="50"/><circle cx="760" cy="380" r="50"/></g>
<circle cx="672" cy="140" r="52" fill="#80bc30"/>
<g fill="#7cb24e"><circle cx="745" cy="170" r="62"/><circle cx="650" cy="215" r="55"/></g>
<!-- tree 2 -->
<g fill="#a2d460"><circle cx="468" cy="125" r="86"/><circle cx="372" cy="205" r="78"/><circle cx="545" cy="185" r="60"/><circle cx="440" cy="290" r="70"/><circle cx="520" cy="262" r="55"/><circle cx="395" cy="270" r="50"/></g>
<g fill="#92c84f"><circle cx="345" cy="210" r="52"/><circle cx="385" cy="280" r="40"/><circle cx="420" cy="105" r="36"/></g>
<g fill="#a2d460"><circle cx="400" cy="205" r="58"/><circle cx="460" cy="130" r="66"/></g>
<!-- trunks -->
<g stroke="#a0574a" stroke-width="22" stroke-linecap="round" fill="none"><path d="M251 168V400"/><path d="M182 242L248 270" stroke-width="17"/><path d="M254 235L286 212" stroke-width="17"/><path d="M469 142V402"/><path d="M400 230L466 257" stroke-width="17"/><path d="M472 232L545 192" stroke-width="17"/></g>
<!-- flame -->
<path d="M850 220 C902 262 914 300 904 332 C930 300 927 276 920 260 C968 310 966 374 914 408 C936 362 906 336 880 300 C870 322 862 337 846 348 C852 322 845 305 838 295 C825 330 798 342 812 402 C756 372 762 320 794 280 C800 300 806 310 812 315 C820 285 840 262 850 220Z" fill="#ffe070"/>
<!-- front bushes -->
<g fill="#7db53a"><circle cx="470" cy="450" r="46"/><circle cx="405" cy="480" r="48"/><circle cx="535" cy="480" r="48"/><rect x="360" y="480" width="222" height="45"/></g>
<g stroke="#343434" stroke-width="18" stroke-linecap="round" fill="none"><path d="M701 265V505"/><path d="M609 238V258Q612 295 650 318L700 348"/><path d="M648 265V300"/><path d="M735 282V335Q732 362 703 372"/></g>
<g fill="#7db53a"><ellipse cx="143" cy="425" rx="13" ry="9"/><ellipse cx="215" cy="443" rx="13" ry="9"/><ellipse cx="143" cy="478" rx="13" ry="9"/><ellipse cx="265" cy="482" rx="12" ry="9"/><ellipse cx="667" cy="482" rx="13" ry="9"/><ellipse cx="790" cy="427" rx="13" ry="9"/><ellipse cx="790" cy="478" rx="13" ry="9"/></g>
<rect x="74" y="522" width="789" height="38" rx="7" fill="#a15b4b"/>
</g>
<g transform="translate(1280 340) scale(0.27894)" stroke="#0c0c10" stroke-width="13.5" stroke-linecap="round" stroke-linejoin="round">
<path d="M116 312L128 124Q128 118 136 118H176Q184 118 184 124L192 282Z" fill="#dfe3f2" stroke="none"/>
<path d="M286 332L298 160Q298 154 306 154H344Q352 154 352 160L358 300Z" fill="#dfe3f2" stroke="none"/>
<path d="M131 191H182" stroke="#8280ee" stroke-width="17" stroke-linecap="butt"/>
<path d="M300 229H350" stroke="#8280ee" stroke-width="16" stroke-linecap="butt"/>
<path d="M117 300L128 124Q128 118 136 118H176Q184 118 184 124L191 270" fill="none"/>
<path d="M287 322L298 160Q298 154 306 154H344Q352 154 352 160L357 292" fill="none"/>
<path d="M155 98V84Q155 68 172 68H230" fill="none"/>
<path d="M323 131V117Q323 101 340 101H398" fill="none"/>
<path d="M86 577V336L238 276Q245 274 245 284V577Z" fill="#e4e8f5" stroke="none"/>
<path d="M250 577V352L396 296Q403 294 403 302V577Z" fill="#d9ddf0" stroke="none"/>
<path d="M408 577V406H560Q580 406 580 424V577Z" fill="#e8ecf8" stroke="none"/>
<path d="M93 342L238 286V314L93 370Z" fill="#f0526c" stroke="none"/>
<path d="M254 358L396 304V332L254 386Z" fill="#f0526c" stroke="none"/>
<path d="M412 410H562Q574 410 574 424V434H412Z" fill="#f0526c" stroke="none"/>
<path d="M86 577V336L238 276Q245 274 245 284V577" fill="none"/>
<path d="M250 352L396 296Q403 294 403 302V577" fill="none"/>
<path d="M408 406H560Q580 406 580 424V478M580 536V577" fill="none"/>
<path d="M94 372L238 316M256 388L300 371M340 355L396 334M412 438H574" fill="none" stroke-width="10"/>
<g fill="#0c0c10" stroke="none"><rect x="112" y="379" width="108" height="48" rx="15"/><rect x="112" y="442" width="108" height="48" rx="15"/><rect x="112" y="505" width="108" height="48" rx="15"/><rect x="269" y="444" width="110" height="48" rx="15"/><rect x="269" y="507" width="110" height="48" rx="15"/></g>
<g fill="#a8dcf0" stroke="none"><rect x="129" y="395" width="30" height="16"/><rect x="173" y="395" width="30" height="16"/><rect x="129" y="458" width="30" height="16"/><rect x="173" y="458" width="30" height="16"/><rect x="129" y="521" width="30" height="16"/><rect x="173" y="521" width="30" height="16"/></g>
<g fill="#2cc0f2" stroke="none"><rect x="287" y="460" width="30" height="16"/><rect x="331" y="460" width="30" height="16"/><rect x="287" y="523" width="30" height="16"/><rect x="331" y="523" width="30" height="16"/></g>
<path d="M446 577V496H532V577" fill="#f5b25c"/>
<path d="M489 500V577" fill="none" stroke-width="11"/>
<path d="M74 577H588" fill="none"/>
</g>
<g transform="translate(1450 380) scale(0.2217)" stroke="#000" stroke-width="27" stroke-linecap="round" stroke-linejoin="round" fill="none">
<path d="M78 325C130 325 160 300 180 240C200 180 250 138 320 138C370 138 400 148 425 160C370 160 312 190 306 245C302 295 350 325 395 325C440 325 480 297 520 297C565 297 590 322 630 322C670 322 700 305 735 298V515L660 527H78Z" fill="#9cdcf6" stroke="none"/>
<path d="M80 325C125 325 150 308 166 275"/>
<path d="M180 237V237.5"/>
<path d="M196 200C225 160 262 138 320 138C370 138 400 148 425 160C370 160 312 190 306 245C302 295 350 325 395 325C440 325 480 297 520 297C565 297 590 322 630 322C670 322 700 305 738 297"/>
<path d="M80 393C125 393 135 368 175 368C215 368 225 393 268 393C310 393 320 368 360 368C400 368 410 393 452 393C495 393 505 368 545 368C585 368 595 393 640 393C680 393 700 375 738 368"/>
<path d="M80 463C125 463 135 438 175 438C215 438 225 463 268 463C310 463 320 438 360 438C400 438 410 463 452 463C495 463 505 438 545 438C585 438 595 463 640 463C680 463 700 445 738 438"/>
<path d="M80 533C125 533 135 508 175 508C215 508 225 533 268 533C310 533 320 508 360 508C400 508 410 533 452 533C495 533 505 508 545 508C585 508 610 528 660 527"/>
<path d="M708 515L738 504"/>
</g>
<g transform="translate(1620 370) scale(0.23607)">
<clipPath id="dclip"><rect x="57" y="68" width="951" height="515"/></clipPath>
<g clip-path="url(#dclip)">
<rect x="57" y="68" width="951" height="515" fill="#daeef9"/>
<path d="M600 275C700 255 780 245 850 248C920 250 970 262 1010 268V330H600Z" fill="#dbb07f"/>
<path d="M900 252C950 240 990 238 1010 238V272C980 262 940 255 900 252Z" fill="#f0cc9e"/>
<path d="M57 262C110 262 170 280 240 290C300 298 340 300 400 290C470 272 520 262 580 265C650 268 720 290 820 318C900 300 960 298 1010 300V583H57Z" fill="#efc594"/>
<path d="M57 300C110 290 160 300 210 325C300 312 400 305 500 320C650 340 800 330 1010 300V583H57Z" fill="#ebc08c"/>
<path d="M57 298C100 292 150 300 200 326C150 335 100 350 57 365Z" fill="#e3b689"/>
<path d="M57 365C150 355 300 360 420 385C560 412 680 440 800 440C700 455 600 452 500 432C380 410 200 405 57 422Z" fill="#d9ad82"/>
<path d="M57 422C200 405 380 410 500 432C600 452 700 455 800 440C880 430 950 428 1010 432V583H57Z" fill="#f1cb9e"/>
<path d="M57 488C150 455 260 438 380 438C500 438 600 465 700 495C780 515 880 518 1010 492V583H57Z" fill="#eabf9b"/>
</g>
</g>
</svg>

<!-- Panel 3: global dust burden map -->
<svg id="p3" style="left:2030px;top:90px" width="850" height="455" viewBox="2030 90 850 455">
<defs>
<clipPath id="mapclip"><rect x="2039.5" y="133.9" width="838.2" height="395.6"/></clipPath>
<clipPath id="landclip"><path d="M2039.5 133.9L2114.9 133.9L2116.9 137.9L2117.4 140.3L2122.3 140.3L2125.3 145.8L2126.3 148.7L2133.2 147.7L2140.6 149.7L2148.0 152.2L2150.4 153.7L2160.3 155.7L2168.7 157.1L2176.1 157.6L2176.6 162.6L2176.1 167.5L2180.0 172.0L2183.0 175.4L2185.4 177.2L2189.4 177.4L2192.8 175.4L2193.3 171.5L2192.8 166.5L2191.4 162.6L2188.9 160.1L2194.3 158.6L2199.3 156.6L2203.7 152.7L2204.2 147.7L2200.2 143.8L2195.3 140.8L2194.8 137.4L2199.3 133.9L2237.7 133.9L2238.7 137.9L2240.7 140.3L2245.1 142.3L2250.0 141.8L2255.0 139.8L2258.4 136.9L2260.4 133.9L2264.8 133.9L2267.3 137.4L2271.2 141.3L2275.2 145.8L2278.1 150.2L2283.6 154.7L2288.0 157.6L2294.9 160.6L2298.8 163.1L2300.8 165.5L2306.2 167.5L2307.2 172.0L2303.8 174.4L2299.3 176.2L2292.9 177.9L2286.0 181.9L2277.2 182.6L2268.8 182.1L2261.4 182.1L2254.5 182.4L2250.0 185.8L2245.1 187.6L2240.7 190.3L2237.2 193.0L2233.3 196.7L2235.2 197.2L2240.2 193.2L2244.6 190.8L2250.5 188.5L2257.4 187.3L2263.8 187.8L2265.3 189.5L2262.9 191.8L2256.4 192.7L2259.4 194.7L2262.4 195.2L2261.4 198.2L2263.3 201.6L2267.8 203.1L2273.7 204.4L2278.6 204.6L2279.6 202.1L2281.6 198.7L2284.1 198.2L2285.0 200.7L2286.5 203.1L2281.6 205.4L2280.6 206.8L2273.7 208.6L2268.8 210.1L2264.3 212.0L2259.9 215.0L2256.9 215.5L2255.5 213.5L2256.9 210.1L2262.4 207.1L2263.3 205.1L2258.4 206.6L2255.0 207.6L2251.0 209.1L2246.6 211.0L2241.7 213.0L2237.2 214.0L2234.8 216.0L2232.8 219.0L2233.3 220.4L2231.8 221.7L2233.8 223.2L2236.7 222.7L2236.7 224.6L2233.3 225.1L2229.8 225.4L2225.4 226.4L2227.4 227.6L2222.4 229.1L2218.0 229.8L2216.5 230.8L2217.0 233.8L2215.0 235.8L2212.6 238.0L2210.1 236.3L2211.6 239.7L2211.6 241.7L2209.1 244.7L2207.1 247.1L2207.1 248.1L2208.1 251.1L2209.6 255.1L2209.1 256.5L2205.2 259.0L2201.2 259.5L2197.8 263.0L2194.3 263.5L2191.4 266.4L2187.9 268.9L2184.5 270.9L2182.5 272.9L2181.0 276.3L2180.5 280.3L2181.5 284.2L2183.5 288.2L2184.7 290.2L2185.9 294.1L2187.2 298.1L2186.9 303.0L2185.4 306.0L2183.0 306.2L2181.0 304.0L2178.5 301.0L2176.6 297.6L2174.1 294.1L2174.1 290.2L2172.6 286.7L2169.2 282.7L2166.2 282.0L2161.3 283.7L2157.8 280.8L2151.4 280.5L2147.5 280.8L2143.5 280.5L2140.1 281.5L2141.1 284.7L2142.5 286.9L2138.6 286.2L2135.2 286.7L2131.2 285.2L2126.8 284.5L2121.8 283.5L2116.9 284.5L2114.0 286.2L2110.5 288.7L2106.6 290.4L2103.1 293.1L2101.6 296.6L2102.1 301.0L2102.9 302.5L2101.1 307.0L2099.9 311.9L2099.7 317.4L2099.7 320.8L2101.1 324.3L2102.6 327.7L2105.1 331.2L2107.5 335.2L2109.5 337.6L2113.5 338.9L2115.9 340.8L2120.4 339.6L2124.8 338.4L2128.7 338.6L2131.7 337.1L2134.2 335.2L2135.2 332.2L2135.9 328.2L2136.6 326.3L2140.1 325.3L2145.5 324.3L2150.4 324.0L2152.9 324.0L2153.9 326.3L2152.4 329.2L2150.4 331.7L2149.9 335.7L2148.5 339.6L2146.5 339.6L2147.0 343.6L2146.5 347.5L2144.0 351.5L2146.5 352.7L2149.5 352.0L2153.4 352.5L2157.8 351.7L2162.8 351.5L2166.2 352.5L2169.2 354.7L2171.6 356.4L2170.7 360.4L2169.7 365.3L2169.7 369.8L2168.7 373.2L2169.2 376.7L2171.6 380.2L2174.1 383.1L2176.6 385.1L2179.5 386.8L2183.0 386.6L2185.9 385.1L2188.9 383.6L2192.8 383.6L2196.8 384.6L2199.7 387.6L2202.2 389.6L2202.9 391.3L2204.7 388.1L2206.2 385.1L2208.6 382.1L2209.6 378.7L2212.6 376.0L2216.0 374.7L2220.5 374.7L2223.9 372.5L2226.9 370.3L2229.8 369.3L2231.3 370.8L2228.8 373.2L2227.4 375.2L2229.3 376.7L2230.8 375.7L2235.2 373.7L2236.2 370.5L2238.0 370.8L2237.7 373.7L2241.7 374.0L2244.6 375.5L2246.1 378.4L2250.5 378.4L2255.0 378.2L2256.9 379.7L2260.9 380.7L2263.8 379.9L2267.3 378.2L2272.2 377.9L2276.7 377.7L2273.2 379.7L2274.2 381.6L2278.6 382.1L2281.6 385.1L2282.6 388.1L2286.0 389.1L2289.5 391.0L2292.4 394.0L2294.4 396.5L2298.4 399.9L2301.8 401.2L2306.2 401.4L2310.7 400.9L2315.6 402.2L2319.6 403.4L2323.5 406.4L2327.0 408.3L2328.9 410.3L2330.4 414.8L2332.4 419.7L2335.3 422.2L2335.8 425.7L2332.4 429.1L2331.4 433.1L2335.3 431.1L2338.8 431.6L2342.7 432.1L2342.7 437.0L2345.7 434.1L2350.1 434.1L2355.1 436.0L2360.0 438.0L2362.0 441.5L2363.4 443.5L2367.4 442.5L2372.3 444.0L2377.2 444.9L2382.2 444.7L2386.1 445.9L2391.5 448.6L2396.5 452.9L2399.9 455.1L2404.4 455.8L2407.3 456.1L2408.8 459.8L2409.8 464.2L2410.3 466.7L2409.8 471.1L2408.3 475.1L2405.3 479.1L2401.9 482.5L2398.9 485.5L2396.5 489.9L2393.0 494.4L2390.1 495.9L2389.6 500.8L2389.6 505.8L2390.1 509.7L2389.1 514.7L2388.1 519.1L2386.1 523.1L2385.6 527.5L2384.1 529.5L2236.0 529.5L2235.2 522.1L2232.3 519.1L2229.3 516.6L2222.9 513.2L2216.0 509.2L2210.6 505.8L2206.2 499.8L2204.7 495.4L2201.7 490.4L2198.8 484.5L2195.8 478.1L2192.8 471.6L2189.4 467.2L2186.4 462.7L2182.0 459.3L2181.0 454.3L2181.5 451.4L2185.4 447.4L2187.4 445.4L2187.9 442.5L2185.9 443.5L2182.7 441.7L2183.5 440.5L2183.0 436.0L2184.5 433.6L2186.9 429.1L2188.9 425.7L2192.8 422.7L2194.8 419.2L2199.3 416.3L2201.7 411.3L2200.7 408.3L2200.2 403.4L2199.7 398.5L2197.8 395.0L2196.3 393.0L2195.3 389.6L2192.8 387.1L2189.9 386.1L2188.4 387.1L2185.9 390.1L2187.4 393.0L2185.4 394.5L2183.0 395.0L2181.5 393.0L2179.0 390.5L2176.6 389.6L2173.6 391.0L2172.6 389.6L2169.7 388.6L2169.2 386.6L2166.7 384.1L2164.2 381.6L2161.8 382.6L2158.8 379.7L2158.8 375.7L2155.4 372.2L2151.9 368.8L2149.9 366.3L2148.5 365.3L2144.0 365.3L2139.1 363.8L2135.6 361.9L2130.7 361.4L2126.8 358.4L2123.3 355.4L2118.9 352.0L2115.9 350.5L2112.0 351.0L2106.1 353.2L2101.1 352.0L2096.2 350.0L2089.3 347.5L2086.3 346.0L2081.4 343.6L2078.0 341.8L2071.5 340.1L2067.6 336.6L2063.2 333.2L2060.7 329.7L2062.7 327.7L2062.7 324.3L2060.7 319.3L2057.3 315.9L2054.8 312.9L2050.3 309.4L2047.4 306.5L2043.9 304.0L2042.5 300.5L2039.5 298.1ZM2877.7 133.9L2728.8 133.9L2722.4 135.1L2717.5 136.1L2710.1 135.9L2704.1 136.4L2698.2 137.6L2697.7 140.3L2702.2 142.1L2702.2 144.8L2700.7 148.2L2697.2 148.7L2693.8 145.8L2688.9 146.0L2685.9 149.2L2685.7 154.2L2686.4 157.1L2683.4 158.9L2680.0 161.3L2677.0 161.8L2674.1 161.6L2672.6 159.6L2667.2 159.9L2662.2 162.1L2655.8 163.1L2652.4 164.1L2649.9 162.8L2648.4 160.9L2645.0 161.6L2641.5 162.8L2637.1 163.6L2635.1 163.6L2635.6 161.8L2631.7 161.6L2631.2 159.9L2629.2 158.4L2629.2 156.4L2631.2 154.9L2632.2 152.9L2635.6 151.7L2632.6 150.2L2633.6 147.3L2634.1 145.2L2630.7 145.8L2627.2 148.0L2624.3 148.2L2622.3 150.2L2621.8 153.2L2622.0 155.9L2624.3 157.1L2624.5 159.1L2625.7 161.6L2625.7 163.8L2623.3 165.5L2617.9 165.3L2616.4 166.8L2612.4 166.5L2608.5 166.8L2605.5 168.8L2604.1 171.7L2602.1 173.7L2599.1 176.4L2594.7 177.9L2590.2 178.9L2589.8 181.9L2586.3 183.8L2582.9 184.8L2582.6 186.1L2576.9 186.6L2575.5 185.1L2572.5 184.8L2574.0 187.8L2574.5 190.0L2569.0 190.5L2564.6 189.3L2558.7 190.5L2558.7 192.7L2560.7 194.2L2566.1 195.2L2570.0 196.9L2572.0 199.2L2575.5 202.1L2576.4 205.1L2575.9 210.1L2574.5 215.2L2573.0 216.2L2567.1 215.7L2559.7 216.0L2553.3 215.0L2547.4 215.0L2542.9 214.3L2539.5 216.2L2536.3 218.0L2538.2 221.4L2538.5 226.4L2538.7 229.8L2537.7 232.8L2535.3 236.3L2535.3 239.0L2538.5 240.5L2538.5 243.2L2537.7 247.4L2542.9 247.6L2545.9 246.6L2549.8 248.4L2551.8 251.3L2554.3 252.4L2555.7 251.8L2560.2 249.1L2564.6 249.1L2571.0 248.9L2573.5 245.9L2578.2 244.4L2579.4 241.2L2582.9 239.0L2580.4 235.8L2582.4 232.3L2586.3 228.3L2592.2 226.4L2597.6 223.4L2597.4 220.7L2596.7 218.0L2599.1 216.5L2602.6 215.7L2606.5 216.2L2611.0 217.5L2614.9 217.0L2617.9 214.5L2622.3 213.0L2625.7 211.0L2630.2 212.8L2632.6 215.5L2633.6 218.5L2636.6 220.9L2640.0 222.4L2642.5 224.4L2646.0 226.6L2649.9 226.9L2651.9 228.8L2654.8 229.8L2655.8 231.8L2658.8 232.8L2659.8 234.8L2661.2 237.7L2661.7 239.2L2659.3 241.7L2659.3 242.9L2661.2 243.2L2663.7 240.7L2666.2 238.2L2666.2 235.8L2663.2 233.8L2665.2 230.6L2667.2 230.8L2670.6 233.0L2672.6 233.8L2673.1 232.1L2670.6 229.6L2665.7 227.6L2660.8 225.6L2661.5 223.4L2657.3 223.4L2654.3 222.4L2651.9 220.4L2649.9 217.5L2648.4 215.0L2644.5 213.0L2642.5 211.5L2643.0 208.1L2642.5 206.1L2646.5 204.6L2649.9 205.1L2648.4 207.3L2650.4 209.1L2652.4 206.6L2655.3 208.1L2656.8 212.0L2660.3 214.5L2663.2 215.5L2667.7 217.5L2671.1 219.9L2675.1 221.9L2677.5 223.9L2678.0 226.4L2677.5 229.8L2680.0 232.8L2681.5 235.3L2683.9 237.7L2685.9 240.7L2688.9 241.2L2686.9 243.7L2688.4 246.6L2688.9 248.6L2691.3 248.1L2692.3 250.4L2694.3 248.6L2696.3 250.4L2695.3 247.1L2694.3 245.2L2696.3 244.7L2698.2 243.2L2700.2 244.2L2700.7 241.7L2697.7 239.7L2694.8 238.2L2695.3 236.3L2693.8 233.3L2693.8 230.8L2694.8 229.8L2697.2 231.3L2698.7 232.8L2701.7 231.8L2699.7 229.3L2702.2 228.3L2706.1 228.1L2710.1 228.8L2711.5 229.8L2711.0 232.6L2710.6 235.3L2714.0 236.3L2714.0 239.2L2711.5 241.2L2715.5 240.7L2716.0 244.2L2716.5 247.1L2720.9 249.1L2725.3 249.6L2727.8 251.6L2731.8 251.1L2733.2 248.4L2736.7 248.9L2740.1 250.4L2743.6 252.3L2748.0 251.6L2752.5 248.6L2756.4 249.6L2760.1 248.6L2758.9 251.6L2758.4 255.1L2758.9 259.5L2756.9 263.0L2754.9 266.9L2754.4 268.4L2753.4 271.9L2752.0 274.8L2750.5 275.8L2745.6 276.8L2741.1 275.8L2738.7 274.8L2734.7 274.3L2731.3 275.1L2728.8 276.6L2724.9 278.0L2719.4 276.8L2716.0 275.3L2709.6 274.3L2706.1 274.3L2703.7 272.4L2696.3 271.1L2695.8 269.1L2688.9 267.7L2681.0 270.4L2680.0 273.3L2681.0 277.3L2676.5 280.8L2670.6 278.3L2664.2 276.3L2657.8 273.8L2656.8 270.6L2651.9 268.9L2646.9 267.9L2641.0 268.2L2636.6 266.4L2632.2 263.7L2631.2 261.5L2634.6 259.0L2636.6 256.0L2633.6 253.1L2633.6 250.6L2636.3 247.4L2632.2 246.4L2630.2 245.9L2625.3 247.6L2620.3 247.9L2615.9 247.9L2612.9 247.4L2607.0 248.6L2601.6 248.1L2596.7 248.6L2589.3 249.9L2582.9 252.3L2578.9 253.8L2575.5 256.0L2571.5 257.0L2567.3 255.8L2562.6 256.5L2558.7 256.5L2555.7 253.3L2552.8 253.6L2550.8 257.5L2548.3 262.2L2544.4 264.4L2540.0 265.9L2536.5 269.9L2533.5 274.3L2534.0 279.8L2533.1 283.7L2531.1 285.7L2526.1 288.2L2518.3 292.4L2515.3 295.6L2510.9 301.0L2508.4 306.0L2503.5 312.9L2501.0 318.3L2498.0 324.8L2497.8 327.7L2501.0 329.2L2501.5 333.7L2502.7 340.6L2501.5 346.5L2500.5 351.5L2498.0 355.4L2495.6 357.7L2497.6 359.4L2499.5 363.3L2499.0 367.3L2500.0 369.8L2503.0 372.2L2506.9 375.7L2509.4 377.7L2513.3 381.6L2515.8 384.6L2516.8 388.6L2518.3 391.5L2522.7 395.0L2525.7 397.0L2528.6 399.4L2533.5 402.4L2537.5 405.9L2541.4 407.9L2544.4 408.8L2548.3 407.1L2553.3 405.9L2559.2 404.9L2563.6 404.6L2567.1 405.4L2571.5 407.1L2575.9 405.1L2580.9 403.4L2585.8 401.9L2588.3 400.2L2593.7 399.2L2598.6 399.0L2603.6 399.4L2606.5 401.9L2608.5 405.4L2611.4 409.1L2615.4 408.8L2619.3 408.3L2623.3 407.9L2625.7 408.3L2626.2 410.8L2629.2 411.3L2630.2 414.8L2630.7 418.7L2630.2 421.2L2628.7 425.7L2627.7 428.6L2627.7 432.1L2625.0 434.1L2626.2 437.5L2628.2 441.5L2631.2 444.9L2635.1 448.9L2639.1 452.9L2641.0 455.8L2642.5 460.3L2645.0 464.7L2647.4 471.1L2646.5 475.1L2648.9 481.0L2649.9 486.0L2648.9 491.4L2645.5 494.9L2643.0 500.8L2641.5 505.8L2640.0 511.7L2639.8 516.1L2641.0 521.6L2644.0 525.5L2646.0 529.5L2753.9 529.5L2753.9 528.5L2757.4 524.6L2763.3 519.6L2768.7 516.1L2775.1 513.2L2779.6 509.7L2782.5 504.8L2783.0 501.3L2782.0 494.9L2781.6 489.9L2781.6 484.0L2780.1 481.5L2777.6 477.1L2776.1 471.6L2776.1 465.2L2773.7 461.8L2773.2 458.8L2775.1 454.3L2777.6 450.4L2780.1 444.9L2783.5 441.5L2786.5 438.5L2789.4 434.6L2792.9 430.6L2797.3 426.6L2801.8 423.2L2806.7 419.2L2811.6 415.3L2816.6 409.3L2820.0 404.4L2823.5 398.5L2826.4 392.5L2829.4 387.1L2832.3 381.6L2833.8 378.9L2834.8 376.2L2834.6 372.0L2831.4 371.5L2826.9 374.0L2822.0 374.7L2816.1 375.5L2811.1 377.2L2807.2 378.4L2802.8 379.2L2798.8 378.4L2795.4 374.7L2792.9 373.5L2794.9 371.8L2795.4 368.8L2791.9 365.8L2788.5 361.9L2784.5 358.4L2780.1 356.4L2777.1 354.0L2775.1 349.0L2772.7 343.6L2769.7 339.6L2766.8 338.1L2765.8 332.7L2765.0 326.8L2763.8 321.8L2760.4 318.3L2757.4 313.4L2756.9 310.4L2753.9 306.0L2751.5 302.0L2749.5 297.6L2747.5 294.1L2745.1 290.2L2743.1 286.7L2742.4 282.5L2743.3 284.2L2745.1 287.7L2747.5 291.2L2750.7 293.4L2752.0 290.7L2753.2 287.2L2754.2 284.5L2754.4 287.7L2753.4 291.6L2755.9 292.1L2757.9 295.6L2761.8 302.0L2765.3 307.0L2768.7 310.9L2771.7 313.9L2774.2 319.3L2774.9 324.3L2777.6 328.7L2781.6 332.7L2785.0 337.6L2787.5 342.6L2790.9 346.5L2792.9 351.5L2792.9 355.9L2794.9 361.9L2795.4 365.3L2796.3 368.0L2799.8 368.0L2803.7 367.3L2808.7 364.3L2816.1 361.9L2821.0 361.4L2824.4 358.9L2830.9 356.4L2839.2 353.5L2839.2 350.5L2844.2 348.0L2848.6 346.5L2854.0 344.1L2859.5 342.1L2861.4 338.1L2866.4 336.9L2866.9 331.7L2870.3 329.7L2871.8 326.8L2874.7 324.3L2876.7 320.3L2876.7 318.8L2873.8 317.4L2870.8 313.9L2866.9 312.9L2861.9 310.4L2859.9 307.5L2859.7 304.0L2860.2 300.3L2858.5 301.5L2857.5 303.5L2854.3 305.7L2850.1 309.7L2843.2 311.2L2837.3 311.9L2836.0 309.0L2836.3 305.5L2835.3 301.5L2832.8 304.0L2832.3 308.0L2829.9 305.0L2829.1 299.6L2826.4 296.1L2822.5 292.6L2820.5 289.2L2818.5 285.5L2818.0 282.5L2821.5 282.5L2824.0 280.3L2827.9 281.3L2829.4 283.2L2832.3 287.7L2835.3 292.6L2840.7 294.6L2845.7 298.1L2851.1 299.3L2855.5 298.1L2859.5 296.3L2862.4 297.6L2864.4 302.5L2867.8 304.3L2872.8 305.0L2877.7 305.2ZM2039.5 310.9L2042.0 313.9L2042.2 315.9L2040.0 317.4L2039.5 317.4ZM2306.2 175.4L2307.7 177.4L2305.8 180.4L2302.3 183.4L2305.8 183.8L2308.7 183.8L2310.7 186.3L2315.6 186.3L2318.1 187.3L2317.6 189.8L2320.1 190.0L2319.1 192.7L2321.5 193.7L2322.0 195.7L2320.5 199.7L2317.6 199.9L2316.6 197.2L2314.1 195.7L2311.2 198.2L2307.7 198.7L2306.2 196.2L2301.8 195.5L2295.9 195.0L2289.5 195.2L2289.5 192.7L2292.4 191.3L2290.0 190.5L2293.4 188.3L2294.9 186.3L2296.4 184.3L2298.4 181.4L2300.3 178.4L2302.3 176.4ZM2263.8 184.1L2271.2 184.3L2277.2 186.8L2276.2 188.0L2268.8 186.6L2264.3 184.8ZM2264.3 199.7L2267.3 200.7L2271.2 201.2L2276.2 200.9L2273.7 202.6L2269.8 202.4L2265.8 200.7ZM2163.0 322.5L2166.2 320.3L2170.7 317.4L2175.6 316.1L2180.0 316.4L2184.5 316.4L2188.9 317.9L2193.3 319.8L2198.3 322.3L2202.2 323.8L2206.6 326.0L2209.1 328.2L2213.1 328.7L2216.3 330.5L2213.5 331.5L2209.1 332.2L2204.7 331.9L2198.8 332.4L2201.2 329.7L2199.3 328.2L2195.8 327.2L2193.3 324.3L2188.4 323.3L2185.0 321.6L2181.0 321.3L2178.0 319.8L2176.1 318.6L2172.1 320.3L2168.2 321.1L2166.2 322.6ZM2214.8 339.9L2216.0 338.4L2220.0 338.9L2223.4 339.1L2224.9 338.6L2222.9 336.2L2222.9 334.2L2220.0 332.9L2222.9 331.9L2226.9 332.7L2228.8 332.2L2232.8 332.4L2236.7 333.4L2237.2 335.2L2240.7 335.2L2238.7 336.4L2242.6 336.9L2244.9 338.6L2243.6 340.6L2240.2 339.6L2236.7 339.6L2233.8 340.6L2231.3 340.4L2229.8 343.6L2228.1 341.6L2224.9 340.6L2220.0 340.6L2217.5 341.3ZM2195.6 340.1L2197.8 339.1L2202.2 339.6L2205.7 340.8L2206.2 342.1L2202.7 342.3L2200.7 343.1L2197.3 341.8L2195.8 340.6ZM2250.3 339.4L2254.5 339.1L2258.2 339.9L2257.9 341.3L2254.0 341.8L2250.5 341.8ZM2276.7 377.7L2281.1 376.9L2281.1 380.7L2276.7 380.9ZM2545.4 156.9L2549.3 157.6L2551.8 157.6L2554.3 160.1L2554.7 161.8L2551.8 163.6L2551.3 165.5L2552.0 168.0L2551.3 170.5L2550.3 172.5L2546.4 173.0L2542.4 174.2L2538.5 175.4L2534.0 176.2L2531.6 174.9L2530.6 173.0L2533.5 171.0L2535.0 169.5L2536.5 167.8L2532.6 166.5L2532.6 164.1L2532.6 162.3L2536.5 162.1L2540.0 161.6L2539.0 160.1L2540.4 158.1L2542.9 157.4ZM2553.8 183.0L2556.7 183.4L2561.2 181.6L2564.1 182.1L2566.6 179.9L2570.0 180.6L2574.0 179.9L2576.9 179.4L2582.9 179.6L2586.8 178.4L2588.8 177.7L2588.8 176.4L2584.8 176.2L2586.3 174.7L2588.3 173.7L2589.8 172.0L2590.5 170.5L2588.3 168.8L2584.3 168.8L2582.9 169.5L2583.6 167.5L2582.4 165.5L2580.9 164.8L2581.4 163.1L2578.9 161.1L2575.9 160.4L2574.5 158.1L2574.0 155.7L2572.0 154.7L2569.0 153.7L2565.6 153.7L2568.1 152.2L2569.5 150.7L2571.5 148.2L2573.0 146.3L2571.5 145.3L2565.6 145.3L2561.6 146.0L2563.1 144.3L2566.1 142.3L2566.8 140.8L2562.1 141.1L2557.2 140.8L2555.7 142.8L2555.2 144.8L2553.3 146.3L2553.8 148.2L2551.3 150.2L2554.3 151.7L2554.3 154.2L2553.3 157.1L2556.2 156.2L2558.7 156.2L2557.7 159.1L2557.2 160.4L2560.7 159.9L2564.6 159.1L2564.1 161.1L2566.6 163.1L2567.6 164.8L2566.6 166.5L2562.6 167.0L2559.7 167.0L2560.2 169.0L2558.7 169.5L2561.6 171.0L2560.2 173.0L2556.2 174.0L2556.7 175.2L2561.2 175.4L2565.1 176.4L2568.1 175.7L2566.6 177.4L2561.2 177.4L2559.7 178.9L2557.2 181.4ZM2607.5 133.9L2608.5 137.4L2610.0 139.3L2613.4 142.8L2616.9 143.8L2621.8 143.0L2626.2 140.8L2630.2 138.8L2633.1 137.9L2634.1 134.9L2635.6 137.9L2637.1 139.8L2638.1 143.3L2640.5 145.8L2642.5 149.2L2645.0 152.2L2644.5 154.2L2646.0 156.4L2648.9 156.6L2652.4 155.9L2653.4 153.7L2658.8 152.9L2661.2 151.7L2663.2 148.7L2664.2 145.3L2665.2 142.3L2667.2 139.8L2671.6 138.4L2674.1 136.4L2675.1 133.9ZM2635.6 155.2L2639.1 153.9L2643.5 153.4L2644.0 155.7L2642.5 157.4L2641.0 158.9L2637.1 157.6L2636.6 156.2ZM2630.2 156.2L2633.6 155.7L2635.1 157.1L2634.1 158.4L2631.7 158.1L2630.4 157.1ZM2636.1 159.4L2640.5 159.1L2642.0 159.9L2639.6 160.6L2636.6 160.1ZM2671.1 147.3L2673.6 144.3L2676.0 144.8L2674.6 147.3L2672.1 148.7ZM2689.8 142.3L2692.8 140.8L2696.3 141.3L2694.8 142.6L2691.3 143.5ZM2824.9 489.9L2827.9 494.9L2829.4 502.3L2830.9 507.2L2829.4 509.7L2827.4 513.7L2825.9 518.6L2824.4 524.6L2823.0 529.5L2800.8 529.5L2799.3 524.6L2800.3 517.1L2801.3 510.7L2806.2 509.2L2810.6 507.7L2814.6 504.8L2818.0 502.3L2819.0 497.9L2823.0 492.9ZM2643.3 242.4L2647.4 241.7L2653.4 242.4L2658.8 241.5L2656.8 244.7L2656.3 249.1L2652.4 247.9L2647.9 246.2L2643.5 244.2ZM2622.3 227.9L2627.2 226.4L2630.2 230.3L2629.2 236.8L2626.7 237.3L2623.3 238.0L2623.3 232.8L2622.0 229.8ZM2628.2 218.0L2629.0 220.4L2628.2 223.9L2627.2 225.9L2624.3 223.4L2624.3 220.4L2627.7 218.5ZM2697.7 254.8L2701.2 254.3L2709.1 255.8L2711.5 256.3L2710.6 257.5L2703.7 258.0L2697.7 256.5ZM2741.1 257.0L2744.6 255.5L2752.5 254.1L2749.5 257.5L2744.6 259.5L2741.6 259.0ZM2593.7 235.0L2597.1 233.0L2598.9 234.3L2596.9 236.3ZM2696.3 237.7L2700.7 239.7L2703.2 242.2L2701.2 241.7L2697.2 239.2ZM2718.4 251.6L2720.9 250.4L2720.4 252.6L2718.9 252.8ZM2844.7 368.5L2848.1 367.8L2850.6 368.5L2848.1 369.5ZM2775.1 459.3L2776.1 460.3L2776.6 462.2L2775.6 461.8Z"/></clipPath>
<filter id="soft" x="-5%" y="-5%" width="110%" height="110%"><feGaussianBlur stdDeviation="0.7"/></filter>
<filter id="b6" x="-50%" y="-50%" width="200%" height="200%"><feGaussianBlur stdDeviation="6"/></filter>
<filter id="b10" x="-50%" y="-50%" width="200%" height="200%"><feGaussianBlur stdDeviation="10"/></filter>
<filter id="b3" x="-50%" y="-50%" width="200%" height="200%"><feGaussianBlur stdDeviation="3"/></filter>
<filter id="tex" x="0" y="0" width="100%" height="100%">
<feTurbulence type="fractalNoise" baseFrequency="0.16" numOctaves="3" seed="7" result="n"/>
<feColorMatrix in="n" type="matrix" values="0 0 0 0 0  0 0 0 0 0  0 0 0 0 0  1.6 0 0 0 -0.62" result="a"/>
<feComposite in="SourceGraphic" in2="a" operator="in"/>
</filter>
</defs>
<rect x="2039.5" y="96.4" width="838.2" height="440" fill="#000"/>
<g clip-path="url(#mapclip)">
<rect x="2039.5" y="133.9" width="838.2" height="395.6" fill="#0a0a49"/>
<g id="plume-ocean">
<g filter="url(#b3)" opacity="0.8">
<path d="M2123 296 Q2140 290 2148 310 Q2150 328 2136 338 Q2120 352 2108 362 Q2102 352 2112 338 Q2126 320 2123 296Z" fill="#244ea6"/>
<path d="M2214 294 Q2244 286 2276 298 Q2282 308 2262 314 Q2244 320 2230 334 Q2214 338 2220 322 Q2232 308 2214 294Z" fill="#506ca8"/>
<ellipse cx="2059" cy="365" rx="20" ry="11" fill="#1a3a92"/>
<ellipse cx="2440" cy="267" rx="9" ry="7" fill="#3a5aa4"/>
<path d="M2555 190 L2580 192 L2594 214 L2574 217 Z" fill="#3c68b0"/>
</g>
<g filter="url(#b3)">
<ellipse cx="2196" cy="309" rx="7" ry="11" fill="#35c0d0" opacity="0.85" transform="rotate(-25 2196 309)"/>
<ellipse cx="2190" cy="296" rx="6" ry="3" fill="#35b8c8" opacity="0.8"/>
<ellipse cx="2176" cy="309" rx="5" ry="3" fill="#2fa0b0" opacity="0.7"/>
<ellipse cx="2170" cy="322" rx="6" ry="2.5" fill="#2fa0b0" opacity="0.7"/>
<ellipse cx="2207" cy="316" rx="4" ry="3" fill="#70d8e0" opacity="0.8"/>
<ellipse cx="2225" cy="324" rx="3" ry="2.5" fill="#b0f0f0" opacity="0.9"/>
</g>
<g filter="url(#b6)">
<path d="M2548 250 L2518 253 L2494 262 L2474 275 L2458 292 L2443 310 L2424 326 L2404 338 L2380 349 L2356 352 L2342 338 L2326 325 L2304 319 L2284 326 L2266 339 L2252 356 L2234 368 L2215 378 L2236 392 L2262 390 L2282 390 L2300 399 L2330 409 L2362 406 L2395 401 L2428 397 L2461 392 L2484 387 L2504 394 L2530 408 L2570 400 L2600 330 L2600 260 Z" fill="#6474e0" opacity="0.94"/>
<path d="M2572 262 L2584 240 L2604 226 L2630 228 L2650 244 L2660 262 L2640 270 L2590 270 Z" fill="#3f6ccc" opacity="0.95"/>
</g>
<g filter="url(#b6)">
<ellipse cx="2492" cy="296" rx="20" ry="28" fill="#7868ea" opacity="0.9" transform="rotate(25 2492 296)"/>
<ellipse cx="2488" cy="338" rx="18" ry="16" fill="#5a98ea" opacity="0.9"/>
<ellipse cx="2410" cy="378" rx="55" ry="18" fill="#6470e2" opacity="0.8"/>
<ellipse cx="2302" cy="343" rx="24" ry="14" fill="#9090cc" opacity="0.85"/>
<ellipse cx="2292" cy="372" rx="22" ry="10" fill="#5a6ad0" opacity="0.8"/>
<ellipse cx="2462" cy="374" rx="24" ry="10" fill="#8c88a4" opacity="0.75"/>
<ellipse cx="2250" cy="382" rx="26" ry="10" fill="#7a90d8" opacity="0.7"/>
</g>
</g>

<g filter="url(#soft)">
<g clip-path="url(#landclip)">
<rect x="2039.5" y="133.9" width="838.2" height="395.6" fill="#45602a"/>
<g filter="url(#b6)">
<ellipse cx="2049.4" cy="218.0" rx="22.2" ry="54.4" fill="#8f8a5e" opacity="0.9"/>
<ellipse cx="2083.9" cy="227.9" rx="24.7" ry="49.5" fill="#6c7342" opacity="0.7"/>
<ellipse cx="2083.9" cy="321.8" rx="19.7" ry="19.8" fill="#868450" opacity="0.9"/>
<ellipse cx="2098.7" cy="173.5" rx="59.2" ry="29.7" fill="#374d23" opacity="0.9"/>
<ellipse cx="2162.8" cy="173.5" rx="59.2" ry="29.7" fill="#354c23" opacity="0.9"/>
<ellipse cx="2226.9" cy="163.6" rx="44.4" ry="24.7" fill="#545d34" opacity="0.85"/>
<ellipse cx="2256.4" cy="153.7" rx="24.7" ry="19.8" fill="#707244" opacity="0.85"/>
<ellipse cx="2157.8" cy="247.6" rx="49.3" ry="39.6" fill="#4c6429" opacity="0.9"/>
<ellipse cx="2197.3" cy="213.0" rx="39.4" ry="19.8" fill="#405a26" opacity="0.8"/>
<ellipse cx="2128.3" cy="267.4" rx="24.7" ry="19.8" fill="#445e26" opacity="0.7"/>
<ellipse cx="2143.0" cy="339.1" rx="14.8" ry="14.8" fill="#456a2e" opacity="0.9"/>
<ellipse cx="2157.8" cy="361.4" rx="14.8" ry="12.4" fill="#42642b" opacity="0.9"/>
<ellipse cx="2093.7" cy="341.6" rx="19.7" ry="12.4" fill="#7f8348" opacity="0.8"/>
<ellipse cx="2276.2" cy="445.4" rx="69.0" ry="49.5" fill="#345a22" opacity="0.95"/>
<ellipse cx="2325.5" cy="489.9" rx="49.3" ry="39.6" fill="#536d2e" opacity="0.85"/>
<ellipse cx="2379.7" cy="475.1" rx="29.6" ry="44.5" fill="#8c8a4c" opacity="0.9"/>
<ellipse cx="2355.1" cy="509.7" rx="29.6" ry="24.7" fill="#6f773d" opacity="0.8"/>
<ellipse cx="2236.7" cy="391.0" rx="24.7" ry="12.4" fill="#5b6a34" opacity="0.7"/>
<ellipse cx="2271.2" cy="391.0" rx="19.7" ry="9.9" fill="#566632" opacity="0.6"/>
<ellipse cx="2197.3" cy="425.7" rx="9.9" ry="19.8" fill="#426327" opacity="0.8"/>
<ellipse cx="2591.7" cy="198.2" rx="29.6" ry="19.8" fill="#496426" opacity="0.9"/>
<ellipse cx="2655.8" cy="183.4" rx="69.0" ry="29.7" fill="#425f24" opacity="0.9"/>
<ellipse cx="2754.4" cy="158.6" rx="98.6" ry="29.7" fill="#415e24" opacity="0.9"/>
<ellipse cx="2729.8" cy="188.3" rx="49.3" ry="17.3" fill="#51662b" opacity="0.85"/>
<ellipse cx="2803.7" cy="188.3" rx="49.3" ry="19.8" fill="#8c8c58" opacity="0.85"/>
<ellipse cx="2788.9" cy="235.3" rx="24.7" ry="12.4" fill="#8a8a55" opacity="0.9"/>
<ellipse cx="2690.3" cy="230.3" rx="14.8" ry="14.8" fill="#616d36" opacity="0.8"/>
<ellipse cx="2646.0" cy="220.4" rx="14.8" ry="14.8" fill="#5f6d34" opacity="0.7"/>
<ellipse cx="2631.2" cy="200.7" rx="19.7" ry="5.9" fill="#8a8a66" opacity="0.6"/>
<ellipse cx="2680.5" cy="430.6" rx="54.2" ry="34.6" fill="#2a501f" opacity="0.95"/>
<ellipse cx="2641.0" cy="410.8" rx="24.7" ry="14.8" fill="#2f5625" opacity="0.9"/>
<ellipse cx="2542.4" cy="396.0" rx="29.6" ry="12.4" fill="#385d27" opacity="0.9"/>
<ellipse cx="2729.8" cy="391.0" rx="29.6" ry="19.8" fill="#51692b" opacity="0.8"/>
<ellipse cx="2769.2" cy="386.1" rx="14.8" ry="19.8" fill="#4f6429" opacity="0.8"/>
<ellipse cx="2764.3" cy="450.4" rx="14.8" ry="14.8" fill="#8a8a50" opacity="0.8"/>
<ellipse cx="2690.3" cy="489.9" rx="49.3" ry="29.7" fill="#606d33" opacity="0.9"/>
<ellipse cx="2749.5" cy="499.8" rx="29.6" ry="24.7" fill="#636f36" opacity="0.85"/>
<ellipse cx="2665.7" cy="475.1" rx="19.7" ry="19.8" fill="#687337" opacity="0.8"/>
<ellipse cx="2813.6" cy="514.7" rx="12.3" ry="19.8" fill="#70753c" opacity="0.9"/>
</g>
<rect x="2039.5" y="133.9" width="838.2" height="395.6" fill="#3a3008" opacity="0.08"/>
<rect x="2039.5" y="133.9" width="838.2" height="395.6" fill="#1c2a10" opacity="0.24" filter="url(#tex)"/>
<g filter="url(#b6)">
<ellipse cx="2049.4" cy="267.4" rx="22.2" ry="34.6" fill="#a8966e" opacity="0.93"/>
<ellipse cx="2069.1" cy="297.1" rx="19.7" ry="29.7" fill="#978c60" opacity="0.9"/>
<ellipse cx="2202.2" cy="475.1" rx="14.8" ry="39.6" fill="#b5a270" opacity="0.9" transform="rotate(35 2202.2 475.1)"/>
<ellipse cx="2226.9" cy="509.7" rx="19.7" ry="14.8" fill="#b8a474" opacity="0.9"/>
<ellipse cx="2562.1" cy="232.8" rx="29.6" ry="19.8" fill="#a5925a" opacity="0.93"/>
<ellipse cx="2853.0" cy="193.2" rx="39.4" ry="34.6" fill="#b5aa7c" opacity="0.93"/>
<ellipse cx="2744.6" cy="237.7" rx="34.5" ry="12.4" fill="#9a9058" opacity="0.9"/>
<ellipse cx="2779.1" cy="267.4" rx="29.6" ry="19.8" fill="#d8caa4" opacity="0.93"/>
<ellipse cx="2808.7" cy="311.9" rx="44.4" ry="39.6" fill="#ece2c4" opacity="0.93"/>
<ellipse cx="2848.1" cy="272.4" rx="34.5" ry="29.7" fill="#cdbd98" opacity="0.93"/>
<ellipse cx="2828.4" cy="257.5" rx="24.7" ry="14.8" fill="#c4b48c" opacity="0.9"/>
<ellipse cx="2798.8" cy="252.6" rx="19.7" ry="12.4" fill="#b8aa80" opacity="0.85"/>
<ellipse cx="2877.7" cy="252.6" rx="19.7" ry="39.6" fill="#d0c4a0" opacity="0.93"/>
<ellipse cx="2862.9" cy="237.7" rx="24.7" ry="19.8" fill="#d9cdaa" opacity="0.93"/>
<ellipse cx="2843.2" cy="331.7" rx="29.6" ry="19.8" fill="#eee0bc" opacity="0.93"/>
<ellipse cx="2803.7" cy="356.4" rx="19.7" ry="12.4" fill="#cdb890" opacity="0.9"/>
<ellipse cx="2759.4" cy="272.4" rx="9.9" ry="14.8" fill="#d2c298" opacity="0.8"/>
<ellipse cx="2818.5" cy="346.5" rx="19.7" ry="9.9" fill="#efe4c4" opacity="0.9"/>
<ellipse cx="2606.5" cy="307.0" rx="128.2" ry="49.5" fill="#dcc89c" opacity="0.93"/>
<ellipse cx="2719.9" cy="311.9" rx="49.3" ry="44.5" fill="#dfcba0" opacity="0.93"/>
<ellipse cx="2542.4" cy="282.2" rx="29.6" ry="19.8" fill="#c5b080" opacity="0.9"/>
<ellipse cx="2591.7" cy="361.4" rx="108.5" ry="14.8" fill="#a59a5c" opacity="0.8"/>
<ellipse cx="2779.1" cy="361.4" rx="14.8" ry="19.8" fill="#c8a07c" opacity="0.9"/>
<ellipse cx="2764.3" cy="341.6" rx="12.3" ry="24.7" fill="#d2ac88" opacity="0.9"/>
<ellipse cx="2808.7" cy="396.0" rx="22.2" ry="24.7" fill="#d0ae88" opacity="0.93"/>
<ellipse cx="2788.9" cy="410.8" rx="14.8" ry="14.8" fill="#c0a074" opacity="0.9"/>
<ellipse cx="2774.2" cy="425.7" rx="14.8" ry="14.8" fill="#b09a6a" opacity="0.9"/>
<ellipse cx="2655.8" cy="509.7" rx="17.3" ry="24.7" fill="#b7a679" opacity="0.9"/>
</g>
<rect x="2039.5" y="133.9" width="838.2" height="395.6" fill="#6a5a30" opacity="0.10" filter="url(#tex)"/>
</g>
<path d="M2725.3 226.6L2720.4 224.9L2717.9 220.4L2719.4 217.0L2722.9 214.0L2723.1 211.0L2725.8 209.1L2728.3 207.1L2729.3 204.6L2733.2 201.2L2737.7 200.2L2739.6 201.6L2744.6 202.6L2747.5 203.1L2743.1 204.1L2742.1 206.3L2746.5 207.3L2747.0 210.1L2749.5 211.0L2752.5 209.3L2756.4 207.8L2761.3 207.6L2762.3 206.1L2766.8 206.1L2764.3 207.8L2767.3 209.6L2772.2 211.3L2777.6 215.2L2784.0 218.0L2787.0 220.9L2787.0 224.9L2783.0 227.1L2777.6 227.9L2771.7 228.1L2766.8 227.6L2760.8 226.4L2758.4 224.4L2754.9 222.9L2748.5 223.2L2742.1 223.9L2737.2 226.4L2731.3 227.1ZM2755.4 202.6L2758.9 200.7L2763.3 199.9L2767.3 198.7L2771.2 198.2L2773.2 198.7L2769.7 200.2L2768.2 201.6L2769.7 203.1L2766.8 204.6L2762.8 205.8L2758.9 205.6L2756.9 206.1L2755.4 204.6ZM2713.5 230.8L2716.5 230.6L2719.4 230.8L2724.4 230.8L2728.8 229.1L2724.9 228.1L2719.9 227.9L2716.5 229.3ZM2816.6 205.1L2815.1 209.1L2815.6 214.0L2816.1 218.0L2820.0 222.4L2823.0 225.4L2825.9 229.8L2829.9 230.8L2825.9 232.3L2824.9 236.3L2823.0 239.2L2823.5 243.2L2827.9 245.4L2832.8 248.4L2838.3 249.1L2844.7 248.4L2848.1 247.9L2847.6 243.7L2847.1 238.2L2844.2 236.3L2845.7 233.3L2842.7 232.3L2842.2 227.9L2847.1 226.9L2851.1 225.4L2849.1 221.9L2843.2 222.9L2840.2 223.9L2840.7 219.9L2837.8 218.5L2834.8 216.5L2832.8 212.5L2829.9 210.5L2834.8 210.1L2834.3 207.1L2841.2 205.6L2844.2 202.1L2843.2 198.7L2838.3 197.9L2833.3 198.7L2828.4 200.2L2824.4 201.2L2821.5 203.1L2818.5 203.6ZM2127.8 199.4L2133.2 198.7L2137.1 200.2L2141.6 198.9L2146.0 196.5L2149.0 196.2L2147.0 198.7L2150.4 200.7L2155.4 200.7L2160.3 199.7L2164.2 200.7L2164.7 198.7L2162.8 195.2L2158.3 193.2L2155.4 189.8L2150.4 189.0L2146.5 190.3L2142.1 192.7L2139.1 193.7L2134.2 196.2L2130.2 197.9ZM2149.0 223.4L2152.9 224.6L2155.4 221.9L2156.6 217.0L2155.6 212.0L2157.8 208.6L2160.8 207.1L2162.8 204.6L2159.8 203.1L2155.4 204.1L2151.9 205.6L2149.9 207.6L2148.0 210.1L2150.4 212.0L2149.5 216.5L2148.5 219.9ZM2164.2 203.9L2167.7 202.6L2171.6 202.4L2176.6 202.6L2180.5 203.6L2184.5 206.1L2187.9 208.6L2186.9 210.5L2183.0 210.1L2181.0 208.1L2179.5 211.0L2178.8 216.0L2175.6 217.7L2174.6 214.0L2171.1 212.5L2168.7 214.5L2168.2 211.5L2171.1 208.1L2169.7 206.1L2166.2 205.1ZM2170.7 224.1L2175.1 225.9L2180.0 224.6L2185.0 222.7L2189.9 220.4L2192.8 218.7L2189.4 218.7L2185.0 219.9L2180.0 220.4L2175.6 222.7L2172.1 222.7ZM2188.4 216.5L2192.3 216.7L2198.3 216.5L2204.2 215.5L2206.2 213.5L2204.2 212.3L2199.3 213.0L2194.3 213.5L2190.9 214.5ZM2738.2 435.5L2739.2 430.6L2741.6 429.1L2746.1 428.6L2749.5 429.6L2751.0 432.1L2749.5 435.5L2747.5 440.5L2746.1 443.5L2741.6 444.4L2739.2 443.5L2738.2 439.5ZM2726.3 447.4L2728.3 452.9L2728.8 458.3L2732.2 464.2L2735.2 470.2L2735.7 473.9L2732.7 472.1L2730.8 466.2L2727.3 461.3L2725.8 455.3L2725.3 450.4ZM2749.5 477.6L2751.5 482.0L2752.5 487.5L2753.9 492.9L2755.4 498.8L2754.9 501.8L2753.0 500.3L2751.5 494.9L2750.5 489.9L2749.5 484.0L2749.0 479.6ZM2228.8 377.4L2230.8 379.7L2231.8 383.1L2229.3 385.6L2226.9 383.6L2226.9 379.7Z" fill="#0a0a49"/>
<path d="M2094.7 164.6L2098.7 165.1L2102.1 168.5L2105.6 174.4L2106.1 180.4L2103.6 181.4L2102.6 176.9L2098.7 172.0L2094.2 167.5ZM2087.3 169.0L2090.8 171.5L2093.7 174.9L2096.7 180.4L2098.2 181.4L2095.7 176.9L2091.3 172.5ZM2143.0 182.4L2147.0 182.9L2148.0 185.8L2145.0 186.3L2143.0 184.3ZM2112.5 186.3L2115.9 185.3L2116.9 188.3L2113.5 188.8ZM2224.9 189.5L2228.3 190.0L2227.8 191.3L2225.4 191.0ZM2216.0 176.9L2220.0 176.9L2219.0 179.9L2216.0 179.4ZM2768.2 139.8L2772.2 140.3L2773.7 142.8L2770.2 143.3ZM2643.0 139.3L2647.4 137.4L2650.9 139.3L2646.9 141.3L2644.0 141.3ZM2652.4 140.8L2654.3 141.8L2652.9 144.8L2651.4 143.8ZM2715.0 139.3L2718.4 138.8L2719.4 142.3L2717.0 143.8ZM2731.8 425.2L2736.7 419.2L2737.2 420.7L2734.2 425.2ZM2738.7 468.2L2742.6 472.1L2741.6 472.6L2738.2 469.7ZM2722.4 473.1L2725.3 474.6L2724.4 477.1L2722.4 476.1ZM2724.9 438.5L2726.3 440.5L2725.3 443.0L2724.4 441.0ZM2158.3 371.8L2161.8 372.2L2163.8 375.7L2159.8 374.7ZM2758.9 407.9L2760.4 409.3L2762.3 415.8L2761.3 418.7L2759.9 414.8L2758.4 410.8Z" fill="#10104c" opacity="0.55"/>
<path d="M2869.3 205.1L2871.8 201.6L2877.7 200.7L2877.7 213.5L2872.8 211.5L2870.3 208.6Z" fill="#2f9a8a"/>
<g filter="url(#b3)" opacity="0.9"><ellipse cx="2832" cy="202" rx="15" ry="5.5" fill="#2c9a88" transform="rotate(-12 2832 202)"/><ellipse cx="2846" cy="226" rx="4" ry="4" fill="#6aa8c8"/><ellipse cx="2823" cy="300" rx="6" ry="3" fill="#1e8088" transform="rotate(35 2823 300)"/><ellipse cx="2836" cy="308" rx="7" ry="3" fill="#1e8088"/><ellipse cx="2850" cy="243" rx="5" ry="3" fill="#6a9a90"/></g>
</g>
<g id="plume-land" clip-path="url(#landclip)">
<g filter="url(#b6)">
<!-- haze over N coast of South America -->
<path d="M2205 370 L2240 364 L2280 374 L2322 392 L2322 404 L2280 394 L2240 382 L2210 380 Z" fill="#7aa4d0" opacity="0.45"/>
<path d="M2557 191 L2586 193 L2600 214 L2576 217 Z" fill="#8fb4b4" opacity="0.8"/>
<!-- whitish veil over the Maghreb -->
<path d="M2500 340 L2508 300 L2530 268 L2556 246 L2600 240 L2650 240 L2668 262 L2664 300 L2652 345 L2610 352 L2560 348 L2520 345 Z" fill="#cdcfe9" opacity="0.95"/>
</g>
<g filter="url(#b10)">
<!-- pale pink: Egypt / Sudan -->
<path d="M2698 286 L2744 290 L2762 320 L2770 350 L2768 372 L2750 386 L2720 398 L2700 410 L2672 420 L2632 424 L2630 410 L2690 402 L2702 350 Z" fill="#f49a96" opacity="0.98"/>
<!-- yellow: Niger / Chad / Libya -->
<path d="M2650 282 L2700 282 L2708 330 L2704 380 L2690 408 L2650 414 L2596 408 L2560 404 L2570 385 L2630 376 L2644 330 Z" fill="#fbe978" opacity="0.99"/>
<!-- lime: Mali -->
<path d="M2496 352 L2540 344 L2600 346 L2646 350 L2640 384 L2600 390 L2556 392 L2520 396 L2498 388 Z" fill="#c4e266" opacity="0.96"/>
<ellipse cx="2736" cy="304" rx="24" ry="14" fill="#f2c4b0" opacity="0.8"/>
</g>
<g filter="url(#b6)">
<ellipse cx="2729" cy="356" rx="33" ry="25" fill="#f86a80" opacity="0.97" transform="rotate(-20 2729 356)"/>
<ellipse cx="2700" cy="340" rx="8" ry="40" fill="#f6cc90" opacity="0.7"/>
<ellipse cx="2524" cy="330" rx="24" ry="14" fill="#6670e4" opacity="0.92"/>
<ellipse cx="2566" cy="335" rx="16" ry="10" fill="#84d8cc" opacity="0.9"/>
<ellipse cx="2548" cy="337" rx="10" ry="8" fill="#64a8ec" opacity="0.9"/>
<ellipse cx="2521" cy="324" rx="10" ry="9" fill="#ae68f0" opacity="0.95"/>
<ellipse cx="2600" cy="352" rx="30" ry="8" fill="#b8e4a4" opacity="0.8"/>
<ellipse cx="2580" cy="388" rx="64" ry="12" fill="#efe060" opacity="0.85"/>
<ellipse cx="2672" cy="302" rx="16" ry="16" fill="#f9f0b4" opacity="0.75"/>
<ellipse cx="2506" cy="390" rx="12" ry="14" fill="#9c8a58" opacity="0.65"/>
<ellipse cx="2560" cy="406" rx="40" ry="5" fill="#b09a50" opacity="0.6"/>
<ellipse cx="2640" cy="416" rx="30" ry="7" fill="#e2805c" opacity="0.8"/>
<ellipse cx="2700" cy="414" rx="26" ry="7" fill="#dc8870" opacity="0.6"/>
</g>
<g filter="url(#b3)">
<ellipse cx="2609.4" cy="278.3" rx="21" ry="17" fill="#9091ac" opacity="0.95"/>
<ellipse cx="2607" cy="274" rx="14" ry="9" fill="#84859f" opacity="0.6"/>
</g>
</g>
<g id="plume-top" filter="url(#b6)">
<ellipse cx="2490" cy="382" rx="30" ry="12" fill="#a08c6c" opacity="0.55" transform="rotate(8 2490 382)"/>
<ellipse cx="2512" cy="392" rx="18" ry="12" fill="#a89858" opacity="0.5"/>
<ellipse cx="2500" cy="350" rx="8" ry="22" fill="#8a9ae0" opacity="0.45"/>
</g>

<g font-size="12.6px" stroke-width="0.45" style="paint-order:stroke"><text x="2331.8" y="477.6" fill="#7a2a9a" stroke="#7a2a9a">Tunisia</text><text x="2331.8" y="497.3" fill="#5a2ad0" stroke="#5a2ad0">Morocco</text><text x="2331.8" y="516.8" fill="#4a30d8" stroke="#4a30d8">W Sahara</text><text x="2414.9" y="477.6" fill="#1428e8" stroke="#1428e8">Mauritania</text><text x="2414.9" y="497.3" fill="#2868ee" stroke="#2868ee">Senegal</text><text x="2414.9" y="516.8" fill="#3a9af0" stroke="#3a9af0">Algeria</text><text x="2499.3" y="477.6" fill="#2fd0b0" stroke="#2fd0b0">Mali</text><text x="2499.3" y="497.3" fill="#a8dc3c" stroke="#a8dc3c">Burkina</text><text x="2499.3" y="516.8" fill="#c8e048" stroke="#c8e048">Niger</text><text x="2583.0" y="477.6" fill="#f0dc50" stroke="#f0dc50">Libya</text><text x="2583.0" y="497.3" fill="#f0b440" stroke="#f0b440">Chad</text><text x="2583.0" y="516.8" fill="#f0a040" stroke="#f0a040">Nigeria</text><text x="2666.9" y="477.6" fill="#f0b030" stroke="#f0b030">Cameroon</text><text x="2666.9" y="497.3" fill="#f08420" stroke="#f08420">Egypt</text><text x="2666.9" y="516.8" fill="#f04020" stroke="#f04020">Sudan</text><text x="2751.0" y="477.6" fill="#e63ccf" stroke="#e63ccf">Ethiopia</text></g>
<g font-size="25px" fill="#dcdcff">
<text x="2079" y="451.4">NOAA GFDL AM3</text>
<text x="2079.3" y="480.9" font-size="21.1px">Dust Burden</text>
<text x="2078.6" y="510.2" font-size="21.3px">2001-09-01 12:00</text>
</g>
</g>
</svg>

</body>
</html>
